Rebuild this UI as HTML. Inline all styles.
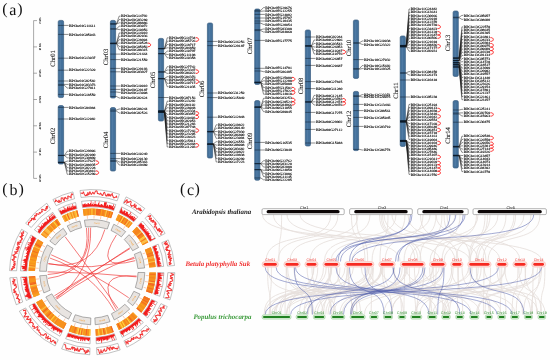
<!DOCTYPE html>
<html lang="en"><head><meta charset="utf-8"><title>Figure</title>
<style>html,body{margin:0;padding:0;background:#fff}body{width:550px;height:360px;overflow:hidden}svg{display:block}</style>
</head><body>
<svg width="550" height="360" viewBox="0 0 550 360" text-rendering="geometricPrecision">
<rect width="550" height="360" fill="#fefefe"/>
<g id="panel-a">
<g stroke="#444" stroke-width="0.45" fill="none">
<path d="M33.6 20.6V178.4"/>
<path d="M33.6 20.6H37"/>
<path d="M33.6 46.9H37"/>
<path d="M33.6 73.2H37"/>
<path d="M33.6 99.5H37"/>
<path d="M33.6 125.8H37"/>
<path d="M33.6 152.1H37"/>
<path d="M33.6 178.4H37"/>
</g>
<g font-family="'Liberation Serif', serif" font-size="2.8" fill="#111" stroke="#111" stroke-width="0.06" text-anchor="middle">
<text transform="translate(41.2 20.6) rotate(-90)">0 Mb</text>
<text transform="translate(41.2 46.9) rotate(-90)">10 Mb</text>
<text transform="translate(41.2 73.2) rotate(-90)">20 Mb</text>
<text transform="translate(41.2 99.5) rotate(-90)">30 Mb</text>
<text transform="translate(41.2 125.8) rotate(-90)">40 Mb</text>
<text transform="translate(41.2 152.1) rotate(-90)">50 Mb</text>
<text transform="translate(41.2 178.4) rotate(-90)">60 Mb</text>
</g>
<rect x="58.2" y="20.4" width="5.4" height="77.2" rx="1.5" ry="1.5" fill="#44719b" stroke="#385b80" stroke-width="0.7"/>
<rect x="59.7" y="22.4" width="1.4" height="73.2" fill="#5680a8" opacity="0.6"/>
<text transform="translate(54.6 58.5) rotate(-90)" font-family="'Liberation Serif', serif" font-size="6.6" fill="#111" stroke="#111" stroke-width="0.08" text-anchor="middle">Chr01</text>
<rect x="58.2" y="105.6" width="5.4" height="58.4" rx="1.5" ry="1.5" fill="#44719b" stroke="#385b80" stroke-width="0.7"/>
<rect x="59.7" y="107.6" width="1.4" height="54.4" fill="#5680a8" opacity="0.6"/>
<text transform="translate(54.6 136) rotate(-90)" font-family="'Liberation Serif', serif" font-size="6.6" fill="#111" stroke="#111" stroke-width="0.08" text-anchor="middle">Chr02</text>
<rect x="110.4" y="20.4" width="5.2" height="77.6" rx="1.5" ry="1.5" fill="#44719b" stroke="#385b80" stroke-width="0.7"/>
<rect x="111.9" y="22.4" width="1.4" height="73.6" fill="#5680a8" opacity="0.6"/>
<text transform="translate(107.8 57) rotate(-90)" font-family="'Liberation Serif', serif" font-size="6.6" fill="#111" stroke="#111" stroke-width="0.08" text-anchor="middle">Chr03</text>
<rect x="110.4" y="107.6" width="5.2" height="63.4" rx="1.5" ry="1.5" fill="#44719b" stroke="#385b80" stroke-width="0.7"/>
<rect x="111.9" y="109.6" width="1.4" height="59.4" fill="#5680a8" opacity="0.6"/>
<text transform="translate(107.8 140) rotate(-90)" font-family="'Liberation Serif', serif" font-size="6.6" fill="#111" stroke="#111" stroke-width="0.08" text-anchor="middle">Chr04</text>
<rect x="158.4" y="38.4" width="5.2" height="82.6" rx="1.5" ry="1.5" fill="#44719b" stroke="#385b80" stroke-width="0.7"/>
<rect x="159.9" y="40.4" width="1.4" height="78.6" fill="#5680a8" opacity="0.6"/>
<text transform="translate(155.2 80) rotate(-90)" font-family="'Liberation Serif', serif" font-size="6.6" fill="#111" stroke="#111" stroke-width="0.08" text-anchor="middle">Chr05</text>
<rect x="207.4" y="23" width="5.2" height="135" rx="1.5" ry="1.5" fill="#44719b" stroke="#385b80" stroke-width="0.7"/>
<rect x="208.9" y="25" width="1.4" height="131" fill="#5680a8" opacity="0.6"/>
<text transform="translate(204.2 89) rotate(-90)" font-family="'Liberation Serif', serif" font-size="6.6" fill="#111" stroke="#111" stroke-width="0.08" text-anchor="middle">Chr06</text>
<rect x="254.7" y="9" width="5.2" height="75.4" rx="1.5" ry="1.5" fill="#44719b" stroke="#385b80" stroke-width="0.7"/>
<rect x="256.2" y="11" width="1.4" height="71.4" fill="#5680a8" opacity="0.6"/>
<text transform="translate(252.2 46) rotate(-90)" font-family="'Liberation Serif', serif" font-size="6.6" fill="#111" stroke="#111" stroke-width="0.08" text-anchor="middle">Chr07</text>
<rect x="305.3" y="30" width="5.2" height="116" rx="1.5" ry="1.5" fill="#44719b" stroke="#385b80" stroke-width="0.7"/>
<rect x="306.8" y="32" width="1.4" height="112" fill="#5680a8" opacity="0.6"/>
<text transform="translate(302.6 86) rotate(-90)" font-family="'Liberation Serif', serif" font-size="6.6" fill="#111" stroke="#111" stroke-width="0.08" text-anchor="middle">Chr08</text>
<rect x="254.7" y="100.6" width="5.2" height="79.6" rx="1.5" ry="1.5" fill="#44719b" stroke="#385b80" stroke-width="0.7"/>
<rect x="256.2" y="102.6" width="1.4" height="75.6" fill="#5680a8" opacity="0.6"/>
<text transform="translate(252.2 141) rotate(-90)" font-family="'Liberation Serif', serif" font-size="6.6" fill="#111" stroke="#111" stroke-width="0.08" text-anchor="middle">Chr09</text>
<rect x="353.4" y="20" width="5.2" height="58.4" rx="1.5" ry="1.5" fill="#44719b" stroke="#385b80" stroke-width="0.7"/>
<rect x="354.9" y="22" width="1.4" height="54.4" fill="#5680a8" opacity="0.6"/>
<text transform="translate(350.8 48) rotate(-90)" font-family="'Liberation Serif', serif" font-size="6.6" fill="#111" stroke="#111" stroke-width="0.08" text-anchor="middle">Chr10</text>
<rect x="400.2" y="36" width="5.2" height="110.4" rx="1.5" ry="1.5" fill="#44719b" stroke="#385b80" stroke-width="0.7"/>
<rect x="401.7" y="38" width="1.4" height="106.4" fill="#5680a8" opacity="0.6"/>
<text transform="translate(397.6 90.6) rotate(-90)" font-family="'Liberation Serif', serif" font-size="6.6" fill="#111" stroke="#111" stroke-width="0.08" text-anchor="middle">Chr11</text>
<rect x="353.4" y="91.4" width="5.2" height="59.2" rx="1.5" ry="1.5" fill="#44719b" stroke="#385b80" stroke-width="0.7"/>
<rect x="354.9" y="93.4" width="1.4" height="55.2" fill="#5680a8" opacity="0.6"/>
<text transform="translate(350.8 119) rotate(-90)" font-family="'Liberation Serif', serif" font-size="6.6" fill="#111" stroke="#111" stroke-width="0.08" text-anchor="middle">Chr12</text>
<rect x="453.1" y="11" width="5.2" height="65.4" rx="1.5" ry="1.5" fill="#44719b" stroke="#385b80" stroke-width="0.7"/>
<rect x="454.6" y="13" width="1.4" height="61.4" fill="#5680a8" opacity="0.6"/>
<text transform="translate(450.2 43) rotate(-90)" font-family="'Liberation Serif', serif" font-size="6.6" fill="#111" stroke="#111" stroke-width="0.08" text-anchor="middle">Chr13</text>
<rect x="453.1" y="100.6" width="5.2" height="67.4" rx="1.5" ry="1.5" fill="#44719b" stroke="#385b80" stroke-width="0.7"/>
<rect x="454.6" y="102.6" width="1.4" height="63.4" fill="#5680a8" opacity="0.6"/>
<text transform="translate(450.2 135.4) rotate(-90)" font-family="'Liberation Serif', serif" font-size="6.6" fill="#111" stroke="#111" stroke-width="0.08" text-anchor="middle">Chr14</text>
<path d="M58.2 25.4H63.6M58.2 34.4H63.6M58.2 58.2H63.6M58.2 70.2H63.6M58.2 81H63.6M58.2 84.4H63.6M58.2 85.4H63.6M58.2 94.4H63.6M58.2 107.4H63.6M58.2 119H63.6M58.2 155.32H63.6M58.2 155.44H63.6M58.2 155.56H63.6M58.2 162.2H63.6M58.2 162.32H63.6M58.2 162.44H63.6M58.2 162.56H63.6M58.2 162.68H63.6M110.4 23.82H115.6M110.4 23.94H115.6M110.4 24.06H115.6M110.4 28.88H115.6M110.4 29H115.6M110.4 43.14H115.6M110.4 43.26H115.6M110.4 43.38H115.6M110.4 43.5H115.6M110.4 43.62H115.6M110.4 43.74H115.6M110.4 54.1H115.6M110.4 59.6H115.6M110.4 68.4H115.6M110.4 71.8H115.6M110.4 86H115.6M110.4 89.4H115.6M110.4 92H115.6M110.4 96.5H115.6M110.4 110H115.6M110.4 111.2H115.6M110.4 153.4H115.6M110.4 158.6H115.6M110.4 160.5H115.6M110.4 161.5H115.6M158.4 48.46H163.6M158.4 48.58H163.6M158.4 48.7H163.6M158.4 48.82H163.6M158.4 53.52H163.6M158.4 53.64H163.6M158.4 53.76H163.6M158.4 71.82H163.6M158.4 71.94H163.6M158.4 72.06H163.6M158.4 78.46H163.6M158.4 78.58H163.6M158.4 78.7H163.6M158.4 78.82H163.6M158.4 97.5H163.6M158.4 110.8H163.6M158.4 110.92H163.6M158.4 111.04H163.6M158.4 111.16H163.6M158.4 111.28H163.6M158.4 111.4H163.6M158.4 111.52H163.6M158.4 111.64H163.6M158.4 111.76H163.6M158.4 111.88H163.6M158.4 112H163.6M158.4 112.12H163.6M158.4 112.24H163.6M158.4 112.36H163.6M158.4 112.48H163.6M207.4 41.4H212.6M207.4 45.6H212.6M207.4 93H212.6M207.4 97.6H212.6M207.4 117.2H212.6M207.4 131.4H212.6M207.4 131.52H212.6M207.4 131.64H212.6M207.4 131.76H212.6M207.4 131.88H212.6M207.4 143.78H212.6M207.4 143.9H212.6M207.4 144.02H212.6M207.4 144.14H212.6M207.4 144.26H212.6M207.4 144.38H212.6M207.4 144.5H212.6M254.7 10.3H259.9M254.7 11.3H259.9M254.7 14.4H259.9M254.7 18H259.9M254.7 21H259.9M254.7 23.2H259.9M254.7 29.6H259.9M254.7 30.6H259.9M254.7 40.4H259.9M254.7 68.3H259.9M254.7 71H259.9M254.7 82.14H259.9M254.7 82.26H259.9M254.7 82.38H259.9M254.7 82.5H259.9M254.7 82.62H259.9M254.7 82.74H259.9M305.3 37H310.5M305.3 45.7H310.5M305.3 45.82H310.5M305.3 45.94H310.5M305.3 46.06H310.5M305.3 46.18H310.5M305.3 58.4H310.5M305.3 65.4H310.5M305.3 81.6H310.5M305.3 88.6H310.5M305.3 101.76H310.5M305.3 101.88H310.5M305.3 102H310.5M305.3 102.12H310.5M305.3 112.4H310.5M305.3 122H310.5M305.3 129.4H310.5M305.3 143H310.5M254.7 106.9H259.9M254.7 107.02H259.9M254.7 107.14H259.9M254.7 107.26H259.9M254.7 107.38H259.9M254.7 142.4H259.9M254.7 150H259.9M254.7 163.52H259.9M254.7 163.64H259.9M254.7 163.76H259.9M254.7 169.52H259.9M254.7 169.64H259.9M254.7 169.76H259.9M254.7 177.94H259.9M353.4 42.7H358.6M353.4 43.3H358.6M353.4 59.6H358.6M353.4 68.6H358.6M353.4 69.2H358.6M400.2 45.36H405.4M400.2 45.48H405.4M400.2 45.6H405.4M400.2 45.72H405.4M400.2 45.84H405.4M400.2 45.96H405.4M400.2 46.08H405.4M400.2 46.2H405.4M400.2 46.32H405.4M400.2 46.44H405.4M400.2 46.56H405.4M400.2 46.68H405.4M400.2 46.8H405.4M400.2 46.92H405.4M400.2 72.7H405.4M400.2 73.3H405.4M400.2 80H405.4M400.2 97H405.4M400.2 120.78H405.4M400.2 120.9H405.4M400.2 121.02H405.4M400.2 121.14H405.4M400.2 121.26H405.4M400.2 121.38H405.4M400.2 121.5H405.4M400.2 121.62H405.4M400.2 121.74H405.4M400.2 121.86H405.4M400.2 121.98H405.4M400.2 122.1H405.4M400.2 140.34H405.4M400.2 140.46H405.4M400.2 140.58H405.4M400.2 140.7H405.4M400.2 140.82H405.4M400.2 140.94H405.4M400.2 141.06H405.4M400.2 141.18H405.4M400.2 141.3H405.4M400.2 141.42H405.4M400.2 141.54H405.4M353.4 95.8H358.6M353.4 96.4H358.6M353.4 104.4H358.6M353.4 110.6H358.6M353.4 117.4H358.6M353.4 126.4H358.6M353.4 149.4H358.6M453.1 17.2H458.3M453.1 17.8H458.3M453.1 57.9H458.3M453.1 58.02H458.3M453.1 58.14H458.3M453.1 58.26H458.3M453.1 58.38H458.3M453.1 60.3H458.3M453.1 60.42H458.3M453.1 60.54H458.3M453.1 60.66H458.3M453.1 60.78H458.3M453.1 62.5H458.3M453.1 62.62H458.3M453.1 62.74H458.3M453.1 62.86H458.3M453.1 62.98H458.3M453.1 64.5H458.3M453.1 64.62H458.3M453.1 64.74H458.3M453.1 64.86H458.3M453.1 64.98H458.3M453.1 66.76H458.3M453.1 66.88H458.3M453.1 67H458.3M453.1 67.12H458.3M453.1 110H458.3M453.1 113H458.3M453.1 114H458.3M453.1 122.2H458.3M453.1 146.34H458.3M453.1 146.46H458.3M453.1 146.58H458.3M453.1 146.7H458.3M453.1 146.82H458.3M453.1 146.94H458.3M453.1 155.24H458.3M453.1 155.36H458.3M453.1 155.48H458.3M453.1 155.6H458.3M453.1 155.72H458.3M453.1 155.84H458.3" stroke="#0c1a28" stroke-width="0.5" fill="none"/>
<path d="M63.6 25.4H68.6M63.6 34.4H68.6M63.6 58.2H68.6M63.6 70.2H68.6M63.6 81H68.6M63.6 84.4H68.6M63.6 85.4h0.9L67.2 88H68.6M63.6 94.4H68.6M63.6 107.4H68.6M63.6 119H68.6M63.6 155.32h0.9L67.2 151.2H68.6M63.6 155.44h0.9L67.2 154.5H68.6M63.6 155.56h0.9L67.2 157.8H68.6M63.6 162.2h0.9L67.2 161.1H68.6M63.6 162.32h0.9L67.2 164.4H68.6M63.6 162.44h0.9L67.2 167.7H68.6M63.6 162.56h0.9L67.2 171H68.6M63.6 162.68h0.9L67.2 174.3H68.6M115.6 23.82h0.9L119.2 16.1H120.6M115.6 23.94h0.9L119.2 19.47H120.6M115.6 24.06h0.9L119.2 22.84H120.6M115.6 28.88h0.9L119.2 26.21H120.6M115.6 29h0.9L119.2 29.58H120.6M115.6 43.14h0.9L119.2 32.95H120.6M115.6 43.26h0.9L119.2 36.32H120.6M115.6 43.38h0.9L119.2 39.69H120.6M115.6 43.5h0.9L119.2 43.06H120.6M115.6 43.62h0.9L119.2 46.43H120.6M115.6 43.74h0.9L119.2 49.8H120.6M115.6 54.1H120.6M115.6 59.6H120.6M115.6 68.4H120.6M115.6 71.8H120.6M115.6 86H120.6M115.6 89.4H120.6M115.6 92h0.9L119.2 92.4H120.6M115.6 96.5h0.9L119.2 98H120.6M115.6 110h0.9L119.2 109H120.6M115.6 111.2h0.9L119.2 113H120.6M115.6 153.4H120.6M115.6 158.6H120.6M115.6 160.5h0.9L119.2 162H120.6M115.6 161.5h0.9L119.2 165H120.6M163.6 48.46h0.9L167.2 37.8H168.6M163.6 48.58h0.9L167.2 41.13H168.6M163.6 48.7h0.9L167.2 44.47H168.6M163.6 48.82h0.9L167.2 47.8H168.6M163.6 53.52h0.9L167.2 51.13H168.6M163.6 53.64h0.9L167.2 54.47H168.6M163.6 53.76h0.9L167.2 57.8H168.6M163.6 71.82h0.9L167.2 66.7H168.6M163.6 71.94h0.9L167.2 70.03H168.6M163.6 72.06h0.9L167.2 73.37H168.6M163.6 78.46h0.9L167.2 76.7H168.6M163.6 78.58h0.9L167.2 80.03H168.6M163.6 78.7h0.9L167.2 83.37H168.6M163.6 78.82h0.9L167.2 86.7H168.6M163.6 97.5H168.6M163.6 110.8h0.9L167.2 101.2H168.6M163.6 110.92h0.9L167.2 104.47H168.6M163.6 111.04h0.9L167.2 107.74H168.6M163.6 111.16h0.9L167.2 111.01H168.6M163.6 111.28h0.9L167.2 114.29H168.6M163.6 111.4h0.9L167.2 117.56H168.6M163.6 111.52h0.9L167.2 120.83H168.6M163.6 111.64h0.9L167.2 124.1H168.6M163.6 111.76h0.9L167.2 127.37H168.6M163.6 111.88h0.9L167.2 130.64H168.6M163.6 112h0.9L167.2 133.91H168.6M163.6 112.12h0.9L167.2 137.19H168.6M163.6 112.24h0.9L167.2 140.46H168.6M163.6 112.36h0.9L167.2 143.73H168.6M163.6 112.48h0.9L167.2 147H168.6M212.6 41.4H217.6M212.6 45.6H217.6M212.6 93H217.6M212.6 97.6H217.6M212.6 117.2H217.6M212.6 131.4h0.9L216.2 124.8H217.6M212.6 131.52h0.9L216.2 128.18H217.6M212.6 131.64h0.9L216.2 131.56H217.6M212.6 131.76h0.9L216.2 134.95H217.6M212.6 131.88h0.9L216.2 138.33H217.6M212.6 143.78h0.9L216.2 141.71H217.6M212.6 143.9h0.9L216.2 145.09H217.6M212.6 144.02h0.9L216.2 148.47H217.6M212.6 144.14h0.9L216.2 151.85H217.6M212.6 144.26h0.9L216.2 155.24H217.6M212.6 144.38h0.9L216.2 158.62H217.6M212.6 144.5h0.9L216.2 162H217.6M259.9 10.3h0.9L263.5 7.6H264.9M259.9 11.3h0.9L263.5 11H264.9M259.9 14.4H264.9M259.9 18H264.9M259.9 21H264.9M259.9 23.2h0.9L263.5 24.4H264.9M259.9 29.6h0.9L263.5 29H264.9M259.9 30.6h0.9L263.5 32H264.9M259.9 40.4H264.9M259.9 68.3H264.9M259.9 71h0.9L263.5 71.7H264.9M259.9 82.14h0.9L263.5 77.5H264.9M259.9 82.26h0.9L263.5 80.84H264.9M259.9 82.38h0.9L263.5 84.18H264.9M259.9 82.5h0.9L263.5 87.52H264.9M259.9 82.62h0.9L263.5 90.86H264.9M259.9 82.74h0.9L263.5 94.2H264.9M310.5 37H315.5M310.5 45.7h0.9L314.1 40H315.5M310.5 45.82h0.9L314.1 43.5H315.5M310.5 45.94h0.9L314.1 47H315.5M310.5 46.06h0.9L314.1 50.5H315.5M310.5 46.18h0.9L314.1 54H315.5M310.5 58.4H315.5M310.5 65.4H315.5M310.5 81.6H315.5M310.5 88.6H315.5M310.5 101.76h0.9L314.1 95.4H315.5M310.5 101.88h0.9L314.1 98.6H315.5M310.5 102h0.9L314.1 101.8H315.5M310.5 102.12h0.9L314.1 105H315.5M310.5 112.4H315.5M310.5 122H315.5M310.5 129.4H315.5M310.5 143H315.5M259.9 106.9h0.9L263.5 98.3H264.9M259.9 107.02h0.9L263.5 101.65H264.9M259.9 107.14h0.9L263.5 105H264.9M259.9 107.26h0.9L263.5 108.35H264.9M259.9 107.38h0.9L263.5 111.7H264.9M259.9 142.4H264.9M259.9 150H264.9M259.9 163.52h0.9L263.5 160.7H264.9M259.9 163.64h0.9L263.5 163.88H264.9M259.9 163.76h0.9L263.5 167.07H264.9M259.9 169.52h0.9L263.5 170.25H264.9M259.9 169.64h0.9L263.5 173.43H264.9M259.9 169.76h0.9L263.5 176.62H264.9M259.9 177.94h0.9L263.5 179.8H264.9M358.6 42.7h0.9L362.2 41H363.6M358.6 43.3h0.9L362.2 44.4H363.6M358.6 59.6H363.6M358.6 68.6h0.9L362.2 65.6H363.6M358.6 69.2h0.9L362.2 68.6H363.6M405.4 45.36h0.9L409 9H410.4M405.4 45.48h0.9L409 12.25H410.4M405.4 45.6h0.9L409 15.49H410.4M405.4 45.72h0.9L409 18.74H410.4M405.4 45.84h0.9L409 21.98H410.4M405.4 45.96h0.9L409 25.23H410.4M405.4 46.08h0.9L409 28.48H410.4M405.4 46.2h0.9L409 31.72H410.4M405.4 46.32h0.9L409 34.97H410.4M405.4 46.44h0.9L409 38.22H410.4M405.4 46.56h0.9L409 41.46H410.4M405.4 46.68h0.9L409 44.71H410.4M405.4 46.8h0.9L409 47.95H410.4M405.4 46.92h0.9L409 51.2H410.4M405.4 72.7h0.9L409 71.6H410.4M405.4 73.3h0.9L409 75H410.4M405.4 80H410.4M405.4 97H410.4M405.4 120.78h0.9L409 104.4H410.4M405.4 120.9h0.9L409 107.58H410.4M405.4 121.02h0.9L409 110.76H410.4M405.4 121.14h0.9L409 113.95H410.4M405.4 121.26h0.9L409 117.13H410.4M405.4 121.38h0.9L409 120.31H410.4M405.4 121.5h0.9L409 123.49H410.4M405.4 121.62h0.9L409 126.67H410.4M405.4 121.74h0.9L409 129.85H410.4M405.4 121.86h0.9L409 133.04H410.4M405.4 121.98h0.9L409 136.22H410.4M405.4 122.1h0.9L409 139.4H410.4M405.4 140.34h0.9L409 142.58H410.4M405.4 140.46h0.9L409 145.76H410.4M405.4 140.58h0.9L409 148.95H410.4M405.4 140.7h0.9L409 152.13H410.4M405.4 140.82h0.9L409 155.31H410.4M405.4 140.94h0.9L409 158.49H410.4M405.4 141.06h0.9L409 161.67H410.4M405.4 141.18h0.9L409 164.85H410.4M405.4 141.3h0.9L409 168.04H410.4M405.4 141.42h0.9L409 171.22H410.4M405.4 141.54h0.9L409 174.4H410.4M358.6 95.8h0.9L362.2 94.6H363.6M358.6 96.4h0.9L362.2 97H363.6M358.6 104.4H363.6M358.6 110.6H363.6M358.6 117.4H363.6M358.6 126.4H363.6M358.6 149.4h0.9L362.2 150H363.6M458.3 17.2h0.9L461.9 15.4H463.3M458.3 17.8h0.9L461.9 19.4H463.3M458.3 57.9h0.9L461.9 26.9H463.3M458.3 58.02h0.9L461.9 30.07H463.3M458.3 58.14h0.9L461.9 33.23H463.3M458.3 58.26h0.9L461.9 36.4H463.3M458.3 58.38h0.9L461.9 39.56H463.3M458.3 60.3h0.9L461.9 42.73H463.3M458.3 60.42h0.9L461.9 45.89H463.3M458.3 60.54h0.9L461.9 49.06H463.3M458.3 60.66h0.9L461.9 52.22H463.3M458.3 60.78h0.9L461.9 55.39H463.3M458.3 62.5h0.9L461.9 58.55H463.3M458.3 62.62h0.9L461.9 61.72H463.3M458.3 62.74h0.9L461.9 64.88H463.3M458.3 62.86h0.9L461.9 68.05H463.3M458.3 62.98h0.9L461.9 71.21H463.3M458.3 64.5h0.9L461.9 74.38H463.3M458.3 64.62h0.9L461.9 77.54H463.3M458.3 64.74h0.9L461.9 80.71H463.3M458.3 64.86h0.9L461.9 83.87H463.3M458.3 64.98h0.9L461.9 87.04H463.3M458.3 66.76h0.9L461.9 90.2H463.3M458.3 66.88h0.9L461.9 93.37H463.3M458.3 67h0.9L461.9 96.53H463.3M458.3 67.12h0.9L461.9 99.7H463.3M458.3 110h0.9L461.9 109.3H463.3M458.3 113h0.9L461.9 112.9H463.3M458.3 114h0.9L461.9 116H463.3M458.3 122.2H463.3M458.3 146.34h0.9L461.9 136.2H463.3M458.3 146.46h0.9L461.9 139.42H463.3M458.3 146.58h0.9L461.9 142.64H463.3M458.3 146.7h0.9L461.9 145.85H463.3M458.3 146.82h0.9L461.9 149.07H463.3M458.3 146.94h0.9L461.9 152.29H463.3M458.3 155.24h0.9L461.9 155.51H463.3M458.3 155.36h0.9L461.9 158.73H463.3M458.3 155.48h0.9L461.9 161.95H463.3M458.3 155.6h0.9L461.9 165.16H463.3M458.3 155.72h0.9L461.9 168.38H463.3M458.3 155.84h0.9L461.9 171.6H463.3" stroke="#1a1a1a" stroke-width="0.5" fill="none"/>
<g font-family="'Liberation Serif', serif" font-size="3.3" fill="#0a0a0a" stroke="#0a0a0a" stroke-width="0.12" text-rendering="geometricPrecision">
<text x="69" y="26.5" textLength="26.5" lengthAdjust="spacingAndGlyphs">BPChr01G11611</text>
<text x="69" y="35.5" textLength="26.5" lengthAdjust="spacingAndGlyphs">BPChr01G05943</text>
<text x="69" y="59.3" textLength="26.5" lengthAdjust="spacingAndGlyphs">BPChr01G13937</text>
<text x="69" y="71.3" textLength="26.5" lengthAdjust="spacingAndGlyphs">BPChr01G22329</text>
<text x="69" y="82.1" textLength="26.5" lengthAdjust="spacingAndGlyphs">BPChr01G02582</text>
<text x="69" y="85.5" textLength="26.5" lengthAdjust="spacingAndGlyphs">BPChr01G03373</text>
<text x="69" y="89.1" textLength="26.5" lengthAdjust="spacingAndGlyphs">BPChr01G27911</text>
<text x="69" y="95.5" textLength="26.5" lengthAdjust="spacingAndGlyphs">BPChr01G18559</text>
<text x="69" y="108.5" textLength="26.5" lengthAdjust="spacingAndGlyphs">BPChr02G04084</text>
<text x="69" y="120.1" textLength="26.5" lengthAdjust="spacingAndGlyphs">BPChr02G12982</text>
<text x="69" y="152.3" textLength="26.5" lengthAdjust="spacingAndGlyphs">BPChr02G20096</text>
<text x="69" y="155.6" textLength="26.5" lengthAdjust="spacingAndGlyphs">BPChr02G02900</text>
<text x="69" y="158.9" textLength="26.5" lengthAdjust="spacingAndGlyphs">BPChr02G30809</text>
<text x="69" y="162.2" textLength="26.5" lengthAdjust="spacingAndGlyphs">BPChr02G17627</text>
<text x="69" y="165.5" textLength="26.5" lengthAdjust="spacingAndGlyphs">BPChr02G08035</text>
<text x="69" y="168.8" textLength="26.5" lengthAdjust="spacingAndGlyphs">BPChr02G02228</text>
<text x="69" y="172.1" textLength="26.5" lengthAdjust="spacingAndGlyphs">BPChr02G03816</text>
<text x="69" y="175.4" textLength="26.5" lengthAdjust="spacingAndGlyphs">BPChr02G15209</text>
<text x="121" y="17.2" textLength="26.5" lengthAdjust="spacingAndGlyphs">BPChr03G14702</text>
<text x="121" y="20.57" textLength="26.5" lengthAdjust="spacingAndGlyphs">BPChr03G03289</text>
<text x="121" y="23.94" textLength="26.5" lengthAdjust="spacingAndGlyphs">BPChr03G08886</text>
<text x="121" y="27.31" textLength="26.5" lengthAdjust="spacingAndGlyphs">BPChr03G03972</text>
<text x="121" y="30.68" textLength="26.5" lengthAdjust="spacingAndGlyphs">BPChr03G19056</text>
<text x="121" y="34.05" textLength="26.5" lengthAdjust="spacingAndGlyphs">BPChr03G14910</text>
<text x="121" y="37.42" textLength="26.5" lengthAdjust="spacingAndGlyphs">BPChr03G02936</text>
<text x="121" y="40.79" textLength="26.5" lengthAdjust="spacingAndGlyphs">BPChr03G28094</text>
<text x="121" y="44.16" textLength="26.5" lengthAdjust="spacingAndGlyphs">BPChr03G19528</text>
<text x="121" y="47.53" textLength="26.5" lengthAdjust="spacingAndGlyphs">BPChr03G05056</text>
<text x="121" y="50.9" textLength="26.5" lengthAdjust="spacingAndGlyphs">BPChr03G08315</text>
<text x="121" y="55.2" textLength="26.5" lengthAdjust="spacingAndGlyphs">BPChr03G21664</text>
<text x="121" y="60.7" textLength="26.5" lengthAdjust="spacingAndGlyphs">BPChr03G21559</text>
<text x="121" y="69.5" textLength="26.5" lengthAdjust="spacingAndGlyphs">BPChr03G20103</text>
<text x="121" y="72.9" textLength="26.5" lengthAdjust="spacingAndGlyphs">BPChr03G03027</text>
<text x="121" y="87.1" textLength="26.5" lengthAdjust="spacingAndGlyphs">BPChr03G19910</text>
<text x="121" y="90.5" textLength="26.5" lengthAdjust="spacingAndGlyphs">BPChr03G20187</text>
<text x="121" y="93.5" textLength="26.5" lengthAdjust="spacingAndGlyphs">BPChr03G13998</text>
<text x="121" y="99.1" textLength="26.5" lengthAdjust="spacingAndGlyphs">BPChr03G02624</text>
<text x="121" y="110.1" textLength="26.5" lengthAdjust="spacingAndGlyphs">BPChr04G08244</text>
<text x="121" y="114.1" textLength="26.5" lengthAdjust="spacingAndGlyphs">BPChr04G02526</text>
<text x="121" y="154.5" textLength="26.5" lengthAdjust="spacingAndGlyphs">BPChr04G19240</text>
<text x="121" y="159.7" textLength="26.5" lengthAdjust="spacingAndGlyphs">BPChr04G29130</text>
<text x="121" y="163.1" textLength="26.5" lengthAdjust="spacingAndGlyphs">BPChr04G05363</text>
<text x="121" y="166.1" textLength="26.5" lengthAdjust="spacingAndGlyphs">BPChr04G10489</text>
<text x="169" y="38.9" textLength="26.5" lengthAdjust="spacingAndGlyphs">BPChr05G14734</text>
<text x="169" y="42.23" textLength="26.5" lengthAdjust="spacingAndGlyphs">BPChr05G05726</text>
<text x="169" y="45.57" textLength="26.5" lengthAdjust="spacingAndGlyphs">BPChr05G18717</text>
<text x="169" y="48.9" textLength="26.5" lengthAdjust="spacingAndGlyphs">BPChr05G04859</text>
<text x="169" y="52.23" textLength="26.5" lengthAdjust="spacingAndGlyphs">BPChr05G19707</text>
<text x="169" y="55.57" textLength="26.5" lengthAdjust="spacingAndGlyphs">BPChr05G11108</text>
<text x="169" y="58.9" textLength="26.5" lengthAdjust="spacingAndGlyphs">BPChr05G19358</text>
<text x="169" y="67.8" textLength="26.5" lengthAdjust="spacingAndGlyphs">BPChr05G27742</text>
<text x="169" y="71.13" textLength="26.5" lengthAdjust="spacingAndGlyphs">BPChr05G23347</text>
<text x="169" y="74.47" textLength="26.5" lengthAdjust="spacingAndGlyphs">BPChr05G06922</text>
<text x="169" y="77.8" textLength="26.5" lengthAdjust="spacingAndGlyphs">BPChr05G04376</text>
<text x="169" y="81.13" textLength="26.5" lengthAdjust="spacingAndGlyphs">BPChr05G20057</text>
<text x="169" y="84.47" textLength="26.5" lengthAdjust="spacingAndGlyphs">BPChr05G19717</text>
<text x="169" y="87.8" textLength="26.5" lengthAdjust="spacingAndGlyphs">BPChr05G21935</text>
<text x="169" y="98.6" textLength="26.5" lengthAdjust="spacingAndGlyphs">BPChr05G07156</text>
<text x="169" y="102.3" textLength="26.5" lengthAdjust="spacingAndGlyphs">BPChr05G13202</text>
<text x="169" y="105.57" textLength="26.5" lengthAdjust="spacingAndGlyphs">BPChr05G04192</text>
<text x="169" y="108.84" textLength="26.5" lengthAdjust="spacingAndGlyphs">BPChr05G18948</text>
<text x="169" y="112.11" textLength="26.5" lengthAdjust="spacingAndGlyphs">BPChr05G24334</text>
<text x="169" y="115.39" textLength="26.5" lengthAdjust="spacingAndGlyphs">BPChr05G03057</text>
<text x="169" y="118.66" textLength="26.5" lengthAdjust="spacingAndGlyphs">BPChr05G19493</text>
<text x="169" y="121.93" textLength="26.5" lengthAdjust="spacingAndGlyphs">BPChr05G02953</text>
<text x="169" y="125.2" textLength="26.5" lengthAdjust="spacingAndGlyphs">BPChr05G21283</text>
<text x="169" y="128.47" textLength="26.5" lengthAdjust="spacingAndGlyphs">BPChr05G07748</text>
<text x="169" y="131.74" textLength="26.5" lengthAdjust="spacingAndGlyphs">BPChr05G17266</text>
<text x="169" y="135.01" textLength="26.5" lengthAdjust="spacingAndGlyphs">BPChr05G23295</text>
<text x="169" y="138.29" textLength="26.5" lengthAdjust="spacingAndGlyphs">BPChr05G18423</text>
<text x="169" y="141.56" textLength="26.5" lengthAdjust="spacingAndGlyphs">BPChr05G15011</text>
<text x="169" y="144.83" textLength="26.5" lengthAdjust="spacingAndGlyphs">BPChr05G26468</text>
<text x="169" y="148.1" textLength="26.5" lengthAdjust="spacingAndGlyphs">BPChr05G11293</text>
<text x="218" y="42.5" textLength="26.5" lengthAdjust="spacingAndGlyphs">BPChr06G16256</text>
<text x="218" y="46.7" textLength="26.5" lengthAdjust="spacingAndGlyphs">BPChr06G20187</text>
<text x="218" y="94.1" textLength="26.5" lengthAdjust="spacingAndGlyphs">BPChr06G31259</text>
<text x="218" y="98.7" textLength="26.5" lengthAdjust="spacingAndGlyphs">BPChr06G15849</text>
<text x="218" y="118.3" textLength="26.5" lengthAdjust="spacingAndGlyphs">BPChr06G12848</text>
<text x="218" y="125.9" textLength="26.5" lengthAdjust="spacingAndGlyphs">BPChr06G10822</text>
<text x="218" y="129.28" textLength="26.5" lengthAdjust="spacingAndGlyphs">BPChr06G09140</text>
<text x="218" y="132.66" textLength="26.5" lengthAdjust="spacingAndGlyphs">BPChr06G27030</text>
<text x="218" y="136.05" textLength="26.5" lengthAdjust="spacingAndGlyphs">BPChr06G06890</text>
<text x="218" y="139.43" textLength="26.5" lengthAdjust="spacingAndGlyphs">BPChr06G23904</text>
<text x="218" y="142.81" textLength="26.5" lengthAdjust="spacingAndGlyphs">BPChr06G26553</text>
<text x="218" y="146.19" textLength="26.5" lengthAdjust="spacingAndGlyphs">BPChr06G08998</text>
<text x="218" y="149.57" textLength="26.5" lengthAdjust="spacingAndGlyphs">BPChr06G03682</text>
<text x="218" y="152.95" textLength="26.5" lengthAdjust="spacingAndGlyphs">BPChr06G19822</text>
<text x="218" y="156.34" textLength="26.5" lengthAdjust="spacingAndGlyphs">BPChr06G10838</text>
<text x="218" y="159.72" textLength="26.5" lengthAdjust="spacingAndGlyphs">BPChr06G18209</text>
<text x="218" y="163.1" textLength="26.5" lengthAdjust="spacingAndGlyphs">BPChr06G17223</text>
<text x="265.3" y="8.7" textLength="26.5" lengthAdjust="spacingAndGlyphs">BPChr07G29676</text>
<text x="265.3" y="12.1" textLength="26.5" lengthAdjust="spacingAndGlyphs">BPChr07G12255</text>
<text x="265.3" y="15.5" textLength="26.5" lengthAdjust="spacingAndGlyphs">BPChr07G24902</text>
<text x="265.3" y="19.1" textLength="26.5" lengthAdjust="spacingAndGlyphs">BPChr07G15707</text>
<text x="265.3" y="22.1" textLength="26.5" lengthAdjust="spacingAndGlyphs">BPChr07G10435</text>
<text x="265.3" y="25.5" textLength="26.5" lengthAdjust="spacingAndGlyphs">BPChr07G20954</text>
<text x="265.3" y="30.1" textLength="26.5" lengthAdjust="spacingAndGlyphs">BPChr07G03398</text>
<text x="265.3" y="33.1" textLength="26.5" lengthAdjust="spacingAndGlyphs">BPChr07G04868</text>
<text x="265.3" y="41.5" textLength="26.5" lengthAdjust="spacingAndGlyphs">BPChr07G17775</text>
<text x="265.3" y="69.4" textLength="26.5" lengthAdjust="spacingAndGlyphs">BPChr07G14701</text>
<text x="265.3" y="72.8" textLength="26.5" lengthAdjust="spacingAndGlyphs">BPChr07G06405</text>
<text x="265.3" y="78.6" textLength="26.5" lengthAdjust="spacingAndGlyphs">BPChr07G25809</text>
<text x="265.3" y="81.94" textLength="26.5" lengthAdjust="spacingAndGlyphs">BPChr07G12208</text>
<text x="265.3" y="85.28" textLength="26.5" lengthAdjust="spacingAndGlyphs">BPChr07G05980</text>
<text x="265.3" y="88.62" textLength="26.5" lengthAdjust="spacingAndGlyphs">BPChr07G31581</text>
<text x="265.3" y="91.96" textLength="26.5" lengthAdjust="spacingAndGlyphs">BPChr07G17022</text>
<text x="265.3" y="95.3" textLength="26.5" lengthAdjust="spacingAndGlyphs">BPChr07G14818</text>
<text x="315.9" y="38.1" textLength="26.5" lengthAdjust="spacingAndGlyphs">BPChr08G02284</text>
<text x="315.9" y="41.1" textLength="26.5" lengthAdjust="spacingAndGlyphs">BPChr08G22896</text>
<text x="315.9" y="44.6" textLength="26.5" lengthAdjust="spacingAndGlyphs">BPChr08G03543</text>
<text x="315.9" y="48.1" textLength="26.5" lengthAdjust="spacingAndGlyphs">BPChr08G26053</text>
<text x="315.9" y="51.6" textLength="26.5" lengthAdjust="spacingAndGlyphs">BPChr08G19287</text>
<text x="315.9" y="55.1" textLength="26.5" lengthAdjust="spacingAndGlyphs">BPChr08G19776</text>
<text x="315.9" y="59.5" textLength="26.5" lengthAdjust="spacingAndGlyphs">BPChr08G26857</text>
<text x="315.9" y="66.5" textLength="26.5" lengthAdjust="spacingAndGlyphs">BPChr08G29687</text>
<text x="315.9" y="82.7" textLength="26.5" lengthAdjust="spacingAndGlyphs">BPChr08G27815</text>
<text x="315.9" y="89.7" textLength="26.5" lengthAdjust="spacingAndGlyphs">BPChr08G11280</text>
<text x="315.9" y="96.5" textLength="26.5" lengthAdjust="spacingAndGlyphs">BPChr08G12145</text>
<text x="315.9" y="99.7" textLength="26.5" lengthAdjust="spacingAndGlyphs">BPChr08G23783</text>
<text x="315.9" y="102.9" textLength="26.5" lengthAdjust="spacingAndGlyphs">BPChr08G12474</text>
<text x="315.9" y="106.1" textLength="26.5" lengthAdjust="spacingAndGlyphs">BPChr08G20476</text>
<text x="315.9" y="113.5" textLength="26.5" lengthAdjust="spacingAndGlyphs">BPChr08G17275</text>
<text x="315.9" y="123.1" textLength="26.5" lengthAdjust="spacingAndGlyphs">BPChr08G20002</text>
<text x="315.9" y="130.5" textLength="26.5" lengthAdjust="spacingAndGlyphs">BPChr08G27112</text>
<text x="315.9" y="144.1" textLength="26.5" lengthAdjust="spacingAndGlyphs">BPChr08G15948</text>
<text x="265.3" y="99.4" textLength="26.5" lengthAdjust="spacingAndGlyphs">BPChr09G03253</text>
<text x="265.3" y="102.75" textLength="26.5" lengthAdjust="spacingAndGlyphs">BPChr09G28524</text>
<text x="265.3" y="106.1" textLength="26.5" lengthAdjust="spacingAndGlyphs">BPChr09G04066</text>
<text x="265.3" y="109.45" textLength="26.5" lengthAdjust="spacingAndGlyphs">BPChr09G31955</text>
<text x="265.3" y="112.8" textLength="26.5" lengthAdjust="spacingAndGlyphs">BPChr09G09845</text>
<text x="265.3" y="143.5" textLength="26.5" lengthAdjust="spacingAndGlyphs">BPChr09G16535</text>
<text x="265.3" y="151.1" textLength="26.5" lengthAdjust="spacingAndGlyphs">BPChr09G23840</text>
<text x="265.3" y="161.8" textLength="26.5" lengthAdjust="spacingAndGlyphs">BPChr09G22762</text>
<text x="265.3" y="164.98" textLength="26.5" lengthAdjust="spacingAndGlyphs">BPChr09G03129</text>
<text x="265.3" y="168.17" textLength="26.5" lengthAdjust="spacingAndGlyphs">BPChr09G02988</text>
<text x="265.3" y="171.35" textLength="26.5" lengthAdjust="spacingAndGlyphs">BPChr09G24958</text>
<text x="265.3" y="174.53" textLength="26.5" lengthAdjust="spacingAndGlyphs">BPChr09G23986</text>
<text x="265.3" y="177.72" textLength="26.5" lengthAdjust="spacingAndGlyphs">BPChr09G11145</text>
<text x="265.3" y="180.9" textLength="26.5" lengthAdjust="spacingAndGlyphs">BPChr09G22205</text>
<text x="364" y="42.1" textLength="26.5" lengthAdjust="spacingAndGlyphs">BPChr10G19938</text>
<text x="364" y="45.5" textLength="26.5" lengthAdjust="spacingAndGlyphs">BPChr10G23322</text>
<text x="364" y="60.7" textLength="26.5" lengthAdjust="spacingAndGlyphs">BPChr10G27932</text>
<text x="364" y="66.7" textLength="26.5" lengthAdjust="spacingAndGlyphs">BPChr10G15602</text>
<text x="364" y="69.7" textLength="26.5" lengthAdjust="spacingAndGlyphs">BPChr10G10325</text>
<text x="410.8" y="10.1" textLength="26.5" lengthAdjust="spacingAndGlyphs">BPChr11G24482</text>
<text x="410.8" y="13.35" textLength="26.5" lengthAdjust="spacingAndGlyphs">BPChr11G13641</text>
<text x="410.8" y="16.59" textLength="26.5" lengthAdjust="spacingAndGlyphs">BPChr11G30066</text>
<text x="410.8" y="19.84" textLength="26.5" lengthAdjust="spacingAndGlyphs">BPChr11G22910</text>
<text x="410.8" y="23.08" textLength="26.5" lengthAdjust="spacingAndGlyphs">BPChr11G12370</text>
<text x="410.8" y="26.33" textLength="26.5" lengthAdjust="spacingAndGlyphs">BPChr11G01739</text>
<text x="410.8" y="29.58" textLength="26.5" lengthAdjust="spacingAndGlyphs">BPChr11G31823</text>
<text x="410.8" y="32.82" textLength="26.5" lengthAdjust="spacingAndGlyphs">BPChr11G16128</text>
<text x="410.8" y="36.07" textLength="26.5" lengthAdjust="spacingAndGlyphs">BPChr11G12647</text>
<text x="410.8" y="39.32" textLength="26.5" lengthAdjust="spacingAndGlyphs">BPChr11G06506</text>
<text x="410.8" y="42.56" textLength="26.5" lengthAdjust="spacingAndGlyphs">BPChr11G21018</text>
<text x="410.8" y="45.81" textLength="26.5" lengthAdjust="spacingAndGlyphs">BPChr11G04836</text>
<text x="410.8" y="49.05" textLength="26.5" lengthAdjust="spacingAndGlyphs">BPChr11G17177</text>
<text x="410.8" y="52.3" textLength="26.5" lengthAdjust="spacingAndGlyphs">BPChr11G02931</text>
<text x="410.8" y="72.7" textLength="26.5" lengthAdjust="spacingAndGlyphs">BPChr11G08150</text>
<text x="410.8" y="76.1" textLength="26.5" lengthAdjust="spacingAndGlyphs">BPChr11G26173</text>
<text x="410.8" y="81.1" textLength="26.5" lengthAdjust="spacingAndGlyphs">BPChr11G10418</text>
<text x="410.8" y="98.1" textLength="26.5" lengthAdjust="spacingAndGlyphs">BPChr11G05238</text>
<text x="410.8" y="105.5" textLength="26.5" lengthAdjust="spacingAndGlyphs">BPChr11G25194</text>
<text x="410.8" y="108.68" textLength="26.5" lengthAdjust="spacingAndGlyphs">BPChr11G09113</text>
<text x="410.8" y="111.86" textLength="26.5" lengthAdjust="spacingAndGlyphs">BPChr11G14038</text>
<text x="410.8" y="115.05" textLength="26.5" lengthAdjust="spacingAndGlyphs">BPChr11G13810</text>
<text x="410.8" y="118.23" textLength="26.5" lengthAdjust="spacingAndGlyphs">BPChr11G31042</text>
<text x="410.8" y="121.41" textLength="26.5" lengthAdjust="spacingAndGlyphs">BPChr11G29554</text>
<text x="410.8" y="124.59" textLength="26.5" lengthAdjust="spacingAndGlyphs">BPChr11G17269</text>
<text x="410.8" y="127.77" textLength="26.5" lengthAdjust="spacingAndGlyphs">BPChr11G03640</text>
<text x="410.8" y="130.95" textLength="26.5" lengthAdjust="spacingAndGlyphs">BPChr11G06451</text>
<text x="410.8" y="134.14" textLength="26.5" lengthAdjust="spacingAndGlyphs">BPChr11G15718</text>
<text x="410.8" y="137.32" textLength="26.5" lengthAdjust="spacingAndGlyphs">BPChr11G14161</text>
<text x="410.8" y="140.5" textLength="26.5" lengthAdjust="spacingAndGlyphs">BPChr11G19004</text>
<text x="410.8" y="143.68" textLength="26.5" lengthAdjust="spacingAndGlyphs">BPChr11G10104</text>
<text x="410.8" y="146.86" textLength="26.5" lengthAdjust="spacingAndGlyphs">BPChr11G29946</text>
<text x="410.8" y="150.05" textLength="26.5" lengthAdjust="spacingAndGlyphs">BPChr11G05486</text>
<text x="410.8" y="153.23" textLength="26.5" lengthAdjust="spacingAndGlyphs">BPChr11G27846</text>
<text x="410.8" y="156.41" textLength="26.5" lengthAdjust="spacingAndGlyphs">BPChr11G15107</text>
<text x="410.8" y="159.59" textLength="26.5" lengthAdjust="spacingAndGlyphs">BPChr11G29311</text>
<text x="410.8" y="162.77" textLength="26.5" lengthAdjust="spacingAndGlyphs">BPChr11G19029</text>
<text x="410.8" y="165.95" textLength="26.5" lengthAdjust="spacingAndGlyphs">BPChr11G10123</text>
<text x="410.8" y="169.14" textLength="26.5" lengthAdjust="spacingAndGlyphs">BPChr11G24147</text>
<text x="410.8" y="172.32" textLength="26.5" lengthAdjust="spacingAndGlyphs">BPChr11G14608</text>
<text x="410.8" y="175.5" textLength="26.5" lengthAdjust="spacingAndGlyphs">BPChr11G12756</text>
<text x="364" y="95.7" textLength="26.5" lengthAdjust="spacingAndGlyphs">BPChr12G23371</text>
<text x="364" y="98.1" textLength="26.5" lengthAdjust="spacingAndGlyphs">BPChr12G29973</text>
<text x="364" y="105.5" textLength="26.5" lengthAdjust="spacingAndGlyphs">BPChr12G13466</text>
<text x="364" y="111.7" textLength="26.5" lengthAdjust="spacingAndGlyphs">BPChr12G08561</text>
<text x="364" y="118.5" textLength="26.5" lengthAdjust="spacingAndGlyphs">BPChr12G05945</text>
<text x="364" y="127.5" textLength="26.5" lengthAdjust="spacingAndGlyphs">BPChr12G03719</text>
<text x="364" y="151.1" textLength="26.5" lengthAdjust="spacingAndGlyphs">BPChr12G06774</text>
<text x="463.7" y="16.5" textLength="26.5" lengthAdjust="spacingAndGlyphs">BPChr13G05957</text>
<text x="463.7" y="20.5" textLength="26.5" lengthAdjust="spacingAndGlyphs">BPChr13G08600</text>
<text x="463.7" y="28" textLength="26.5" lengthAdjust="spacingAndGlyphs">BPChr13G22578</text>
<text x="463.7" y="31.17" textLength="26.5" lengthAdjust="spacingAndGlyphs">BPChr13G08645</text>
<text x="463.7" y="34.33" textLength="26.5" lengthAdjust="spacingAndGlyphs">BPChr13G01395</text>
<text x="463.7" y="37.5" textLength="26.5" lengthAdjust="spacingAndGlyphs">BPChr13G16891</text>
<text x="463.7" y="40.66" textLength="26.5" lengthAdjust="spacingAndGlyphs">BPChr13G28233</text>
<text x="463.7" y="43.83" textLength="26.5" lengthAdjust="spacingAndGlyphs">BPChr13G20304</text>
<text x="463.7" y="46.99" textLength="26.5" lengthAdjust="spacingAndGlyphs">BPChr13G06975</text>
<text x="463.7" y="50.16" textLength="26.5" lengthAdjust="spacingAndGlyphs">BPChr13G09609</text>
<text x="463.7" y="53.32" textLength="26.5" lengthAdjust="spacingAndGlyphs">BPChr13G10238</text>
<text x="463.7" y="56.49" textLength="26.5" lengthAdjust="spacingAndGlyphs">BPChr13G01134</text>
<text x="463.7" y="59.65" textLength="26.5" lengthAdjust="spacingAndGlyphs">BPChr13G05773</text>
<text x="463.7" y="62.82" textLength="26.5" lengthAdjust="spacingAndGlyphs">BPChr13G14728</text>
<text x="463.7" y="65.98" textLength="26.5" lengthAdjust="spacingAndGlyphs">BPChr13G18517</text>
<text x="463.7" y="69.15" textLength="26.5" lengthAdjust="spacingAndGlyphs">BPChr13G13099</text>
<text x="463.7" y="72.31" textLength="26.5" lengthAdjust="spacingAndGlyphs">BPChr13G20982</text>
<text x="463.7" y="75.48" textLength="26.5" lengthAdjust="spacingAndGlyphs">BPChr13G19557</text>
<text x="463.7" y="78.64" textLength="26.5" lengthAdjust="spacingAndGlyphs">BPChr13G11440</text>
<text x="463.7" y="81.81" textLength="26.5" lengthAdjust="spacingAndGlyphs">BPChr13G05112</text>
<text x="463.7" y="84.97" textLength="26.5" lengthAdjust="spacingAndGlyphs">BPChr13G23626</text>
<text x="463.7" y="88.14" textLength="26.5" lengthAdjust="spacingAndGlyphs">BPChr13G29154</text>
<text x="463.7" y="91.3" textLength="26.5" lengthAdjust="spacingAndGlyphs">BPChr13G17891</text>
<text x="463.7" y="94.47" textLength="26.5" lengthAdjust="spacingAndGlyphs">BPChr13G21237</text>
<text x="463.7" y="97.63" textLength="26.5" lengthAdjust="spacingAndGlyphs">BPChr13G22461</text>
<text x="463.7" y="100.8" textLength="26.5" lengthAdjust="spacingAndGlyphs">BPChr13G23157</text>
<text x="463.7" y="110.4" textLength="26.5" lengthAdjust="spacingAndGlyphs">BPChr14G25241</text>
<text x="463.7" y="114" textLength="26.5" lengthAdjust="spacingAndGlyphs">BPChr14G02769</text>
<text x="463.7" y="117.1" textLength="26.5" lengthAdjust="spacingAndGlyphs">BPChr14G15963</text>
<text x="463.7" y="123.3" textLength="26.5" lengthAdjust="spacingAndGlyphs">BPChr14G30475</text>
<text x="463.7" y="137.3" textLength="26.5" lengthAdjust="spacingAndGlyphs">BPChr14G29540</text>
<text x="463.7" y="140.52" textLength="26.5" lengthAdjust="spacingAndGlyphs">BPChr14G26558</text>
<text x="463.7" y="143.74" textLength="26.5" lengthAdjust="spacingAndGlyphs">BPChr14G29656</text>
<text x="463.7" y="146.95" textLength="26.5" lengthAdjust="spacingAndGlyphs">BPChr14G23301</text>
<text x="463.7" y="150.17" textLength="26.5" lengthAdjust="spacingAndGlyphs">BPChr14G27144</text>
<text x="463.7" y="153.39" textLength="26.5" lengthAdjust="spacingAndGlyphs">BPChr14G19326</text>
<text x="463.7" y="156.61" textLength="26.5" lengthAdjust="spacingAndGlyphs">BPChr14G13857</text>
<text x="463.7" y="159.83" textLength="26.5" lengthAdjust="spacingAndGlyphs">BPChr14G14043</text>
<text x="463.7" y="163.05" textLength="26.5" lengthAdjust="spacingAndGlyphs">BPChr14G14073</text>
<text x="463.7" y="166.26" textLength="26.5" lengthAdjust="spacingAndGlyphs">BPChr14G13914</text>
<text x="463.7" y="169.48" textLength="26.5" lengthAdjust="spacingAndGlyphs">BPChr14G04392</text>
<text x="463.7" y="172.7" textLength="26.5" lengthAdjust="spacingAndGlyphs">BPChr14G16778</text>
</g>
<path d="M95.7 160.9C99.6 160.5 99.6 164.8 95.7 164.4M95.7 170.9C99.6 170.5 99.6 174.8 95.7 174.4M147.7 43.1C151.6 42.7 151.6 47.1 147.7 46.7M195.7 37.7C199.6 37.3 199.6 41.7 195.7 41.3M195.7 69.9C199.6 69.5 199.6 73.8 195.7 73.4M195.7 79.9C199.6 79.5 199.6 83.8 195.7 83.4M195.7 111.7C199.6 111.3 199.6 115.5 195.7 115.1M195.7 115.2C199.6 114.8 199.6 119 195.7 118.6M195.7 128.8C199.6 128.4 199.6 132.6 195.7 132.2M195.7 143.6C199.6 143.2 199.6 147.5 195.7 147.1M292 77.4C295.9 77 295.9 81.3 292 80.9M292 87.4C295.9 87 295.9 91.3 292 90.9M292 90.7C295.9 90.3 295.9 94.7 292 94.3M342.6 50.2C346.5 49.8 346.5 54.1 342.6 53.7M342.6 98.5C346.5 98.1 346.5 102.3 342.6 101.9M342.6 101.7C346.5 101.3 346.5 105.5 342.6 105.1M292 98.2C295.9 97.8 295.9 102.2 292 101.8M292 101.6C295.9 101.2 295.9 105.4 292 105M437.5 25.1C441.4 24.7 441.4 29 437.5 28.6M437.5 31.6C441.4 31.2 441.4 35.5 437.5 35.1M437.5 34.9C441.4 34.5 441.4 38.7 437.5 38.3M437.5 44.6C441.4 44.2 441.4 48.4 437.5 48M437.5 108.3C441.4 107.9 441.4 112.1 437.5 111.7M437.5 114.7C441.4 114.3 441.4 118.5 437.5 118.1M437.5 121.7C441.4 121.3 441.4 125.5 437.5 125.1M437.5 128.3C441.4 127.9 441.4 132.1 437.5 131.7M437.5 141.3C441.4 140.9 441.4 145.1 437.5 144.7M437.5 155.3C441.4 154.9 441.4 159.1 437.5 158.7M437.5 161.3C441.4 160.9 441.4 165.1 437.5 164.7M437.5 164.7C441.4 164.3 441.4 168.5 437.5 168.1M437.5 167.9C441.4 167.5 441.4 171.7 437.5 171.3M437.5 171.1C441.4 170.7 441.4 174.9 437.5 174.5M490.4 37.65C494.3 37.25 494.3 41.75 490.4 41.35M490.4 43.5C494.3 43.1 494.3 47.6 490.4 47.2M490.4 47C494.3 46.6 494.3 51.1 490.4 50.7M490.4 50.5C494.3 50.1 494.3 54.6 490.4 54.2M490.4 112.8C494.3 112.4 494.3 116.5 490.4 116.1M490.4 136.3C494.3 135.9 494.3 140.1 490.4 139.7M490.4 142.1C494.3 141.7 494.3 145.7 490.4 145.3M490.4 145.1C494.3 144.7 494.3 148.7 490.4 148.3M490.4 148.1C494.3 147.7 494.3 151.7 490.4 151.3" stroke="#fb2020" stroke-width="0.95" fill="none"/>
</g>
<g id="panel-b">
<path d="M82.8 209.3A63.6 63.6 0 0 1 113.17 212.16L111.06 218.2A57.2 57.2 0 0 0 83.75 215.63Z" fill="#f7931e"/>
<path d="M82.8 209.3A63.6 63.6 0 0 1 84.18 209.11L84.99 215.46A57.2 57.2 0 0 0 83.75 215.63Z" fill="#f7931e"/>
<path d="M84.02 209.13A63.6 63.6 0 0 1 85.41 208.96L86.09 215.33A57.2 57.2 0 0 0 84.84 215.48Z" fill="#f7931e"/>
<path d="M85.24 208.98A63.6 63.6 0 0 1 86.63 208.84L87.19 215.22A57.2 57.2 0 0 0 85.94 215.34Z" fill="#f9a01f"/>
<path d="M86.47 208.86A63.6 63.6 0 0 1 87.86 208.75L88.3 215.13A57.2 57.2 0 0 0 87.05 215.23Z" fill="#f7931e"/>
<path d="M87.7 208.76A63.6 63.6 0 0 1 89.09 208.68L89.41 215.07A57.2 57.2 0 0 0 88.15 215.14Z" fill="#f68b1f"/>
<path d="M88.93 208.68A63.6 63.6 0 0 1 90.32 208.63L90.51 215.02A57.2 57.2 0 0 0 89.26 215.08Z" fill="#f9a01f"/>
<path d="M90.16 208.63A63.6 63.6 0 0 1 91.56 208.6L91.62 215A57.2 57.2 0 0 0 90.36 215.03Z" fill="#f68b1f"/>
<path d="M91.39 208.61A63.6 63.6 0 0 1 92.79 208.6L92.73 215A57.2 57.2 0 0 0 91.47 215Z" fill="#ffd23c"/>
<path d="M92.62 208.6A63.6 63.6 0 0 1 94.02 208.63L93.84 215.02A57.2 57.2 0 0 0 92.58 215Z" fill="#f68b1f"/>
<path d="M93.85 208.62A63.6 63.6 0 0 1 95.25 208.67L94.94 215.07A57.2 57.2 0 0 0 93.69 215.02Z" fill="#f7931e"/>
<path d="M95.09 208.67A63.6 63.6 0 0 1 96.48 208.74L96.05 215.13A57.2 57.2 0 0 0 94.79 215.06Z" fill="#fbb03b"/>
<path d="M96.32 208.73A63.6 63.6 0 0 1 97.71 208.84L97.16 215.22A57.2 57.2 0 0 0 95.9 215.12Z" fill="#f26522"/>
<path d="M97.54 208.82A63.6 63.6 0 0 1 98.94 208.96L98.26 215.32A57.2 57.2 0 0 0 97.01 215.2Z" fill="#f26522"/>
<path d="M98.77 208.94A63.6 63.6 0 0 1 100.16 209.1L99.36 215.45A57.2 57.2 0 0 0 98.11 215.31Z" fill="#f26522"/>
<path d="M99.99 209.08A63.6 63.6 0 0 1 101.38 209.27L100.46 215.6A57.2 57.2 0 0 0 99.21 215.43Z" fill="#f36f21"/>
<path d="M101.22 209.24A63.6 63.6 0 0 1 102.6 209.46L101.55 215.77A57.2 57.2 0 0 0 100.31 215.58Z" fill="#f9a01f"/>
<path d="M102.43 209.43A63.6 63.6 0 0 1 103.81 209.67L102.64 215.96A57.2 57.2 0 0 0 101.4 215.75Z" fill="#f58220"/>
<path d="M103.65 209.64A63.6 63.6 0 0 1 105.02 209.91L103.73 216.17A57.2 57.2 0 0 0 102.5 215.93Z" fill="#f58220"/>
<path d="M104.86 209.87A63.6 63.6 0 0 1 106.23 210.17L104.81 216.41A57.2 57.2 0 0 0 103.58 216.14Z" fill="#f7931e"/>
<path d="M106.06 210.13A63.6 63.6 0 0 1 107.42 210.45L105.89 216.66A57.2 57.2 0 0 0 104.67 216.38Z" fill="#fcc24a"/>
<path d="M107.26 210.41A63.6 63.6 0 0 1 108.62 210.76L106.97 216.94A57.2 57.2 0 0 0 105.75 216.63Z" fill="#f58220"/>
<path d="M108.46 210.71A63.6 63.6 0 0 1 109.81 211.09L108.03 217.24A57.2 57.2 0 0 0 106.82 216.9Z" fill="#f7931e"/>
<path d="M109.65 211.04A63.6 63.6 0 0 1 110.99 211.44L109.1 217.55A57.2 57.2 0 0 0 107.89 217.19Z" fill="#f36f21"/>
<path d="M110.83 211.39A63.6 63.6 0 0 1 112.16 211.81L110.15 217.89A57.2 57.2 0 0 0 108.95 217.51Z" fill="#f9a01f"/>
<path d="M112 211.76A63.6 63.6 0 0 1 113.17 212.16L111.06 218.2A57.2 57.2 0 0 0 110.01 217.84Z" fill="#f36f21"/>
<path d="M81.6 201.29A71.7 71.7 0 0 1 115.84 204.51L113.73 210.55A65.3 65.3 0 0 0 82.55 207.62Z" fill="#fff" stroke="#777" stroke-width="0.45"/>
<path d="M82.73 207.29L82.28 204.23L82.93 204.14L82.98 204.51L83.63 204.42L83.58 204L84.23 203.92L84.2 203.7L84.86 203.63L84.82 203.28L85.48 203.21L85.61 204.57L86.26 204.51L86.22 204.04L86.87 203.99L86.9 204.45L87.55 204.4L87.47 203.18L88.12 203.14L88.12 203L88.78 202.97L88.85 204.34L89.49 204.31L89.48 203.96L90.13 203.94L90.1 203.07L90.76 203.05L90.72 200.82L91.4 200.8L91.44 204.47L92.09 204.47L92.09 203.92L92.74 203.93L92.75 202.44L93.42 202.44L93.38 204.71L94.02 204.72L94.04 203.93L94.69 203.95L94.8 201.03L95.48 201.06L95.35 203.88L96 203.91L95.98 204.35L96.63 204.39L96.66 203.85L97.31 203.89L97.25 204.69L97.9 204.74L98.02 203.29L98.68 203.34L98.85 201.5L99.53 201.57L99.2 204.7L99.85 204.77L99.81 205.07L100.45 205.14L100.58 204.14L101.22 204.23L101.27 203.89L101.92 203.98L101.88 204.29L102.52 204.39L102.41 205.11L103.05 205.22L103 205.52L103.64 205.63L104.22 202.25L104.89 202.37L104.9 202.32L105.56 202.44L105.63 202.08L106.3 202.21L106.29 202.29L106.95 202.43L106.26 205.68L106.9 205.82L107.17 204.58L107.82 204.73L107.7 205.22L108.34 205.37L108.08 206.45L108.71 206.61L109.18 204.74L109.82 204.9L109.77 205.09L110.41 205.26L110.42 205.23L111.06 205.41L111.11 205.22L111.75 205.4L111.49 206.29L112.12 206.48L112.3 205.89L112.93 206.09L113.47 204.37L114.11 204.58L113.11 207.68L113.72 207.88L114.28 206.22L114.91 206.43L113.61 210.19A65.6 65.6 0 0 0 82.73 207.29Z" fill="#f21f1f"/>
<path d="M79.99 190.51A82.6 82.6 0 0 1 119.43 194.22L117.12 200.83A75.6 75.6 0 0 0 81.03 197.43Z" fill="#fff" stroke="#777" stroke-width="0.45"/>
<path d="M81.22 193.09L81.88 193.41L82.52 193.66L82.98 192.46L83.5 191.61L84.44 194.76L85.06 195.11L85.71 195.8L86.29 195.75L86.77 194.21L87.45 195.51L87.85 192.24L88.58 194.73L89.15 194.35L89.65 191.51L90.28 192.19L90.92 194.09L91.52 194.33L92.11 193.43L92.72 191.91L93.32 192.72L93.89 194.06L94.51 193.32L95.17 191.63L95.81 190.93L96.44 190.76L97.06 190.86L97.48 193.81L98.08 193.7L98.67 193.83L99.26 194.01L99.82 194.42L100.55 193.11L101.08 193.77L101.55 194.92L102.14 194.94L102.63 195.76L103.57 193.34L104.39 192L104.87 192.9L105.24 194.38L105.67 195.37L106.12 196.22L106.91 195.18L107.79 193.81L107.93 196.17L109.06 193.71L109.17 196.03L110.07 194.75L110.33 196.28L111.28 194.87L112.29 193.38L112.38 195.44L112.83 196.1L113.29 196.67L113.52 198.02L114.31 197.44L114.91 197.5L115.64 197.15L116.57 196.2L116.84 197.32L117.49 197.26" fill="none" stroke="#f23838" stroke-width="1.25" stroke-linejoin="round" stroke-linecap="round" stroke-dasharray="0.01 1.05"/>
<path d="M87.5 218.81L87.22 215.62M93.98 218.63L94.09 215.43M100.44 219.24L100.93 216.08M106.78 220.62L107.65 217.54" stroke="#f47b3a" stroke-width="0.4"/>
<path d="M84.43 220.18A52.6 52.6 0 0 1 109.54 222.54L107.3 228.96A45.8 45.8 0 0 0 85.43 226.9Z" fill="#e8e4e1" stroke="#707070" stroke-width="0.55"/>
<text transform="translate(96.81 223.22) rotate(5.38)" font-family="'Liberation Sans', sans-serif" font-size="2.2" fill="#f7941d" text-anchor="middle" dy="0.8">Chr01</text>
<path d="M118.32 214.21A63.6 63.6 0 0 1 132.65 223.12L128.58 228.06A57.2 57.2 0 0 0 115.69 220.05Z" fill="#f7931e"/>
<path d="M118.32 214.21A63.6 63.6 0 0 1 119.65 214.83L116.89 220.6A57.2 57.2 0 0 0 115.69 220.05Z" fill="#f9a01f"/>
<path d="M119.5 214.76A63.6 63.6 0 0 1 120.82 215.4L117.94 221.12A57.2 57.2 0 0 0 116.76 220.54Z" fill="#f7931e"/>
<path d="M120.67 215.33A63.6 63.6 0 0 1 121.98 216L118.98 221.66A57.2 57.2 0 0 0 117.81 221.05Z" fill="#f9a01f"/>
<path d="M121.83 215.92A63.6 63.6 0 0 1 123.12 216.62L120.01 222.22A57.2 57.2 0 0 0 118.85 221.59Z" fill="#f36f21"/>
<path d="M122.98 216.54A63.6 63.6 0 0 1 124.25 217.27L121.03 222.8A57.2 57.2 0 0 0 119.88 222.14Z" fill="#ffd23c"/>
<path d="M124.11 217.18A63.6 63.6 0 0 1 125.37 217.94L122.03 223.4A57.2 57.2 0 0 0 120.9 222.72Z" fill="#f36f21"/>
<path d="M125.23 217.85A63.6 63.6 0 0 1 126.48 218.63L123.03 224.02A57.2 57.2 0 0 0 121.91 223.32Z" fill="#f7931e"/>
<path d="M126.34 218.54A63.6 63.6 0 0 1 127.57 219.34L124.01 224.66A57.2 57.2 0 0 0 122.9 223.94Z" fill="#f7931e"/>
<path d="M127.43 219.25A63.6 63.6 0 0 1 128.64 220.08L124.97 225.32A57.2 57.2 0 0 0 123.88 224.58Z" fill="#f36f21"/>
<path d="M128.5 219.98A63.6 63.6 0 0 1 129.7 220.83L125.93 226A57.2 57.2 0 0 0 124.85 225.23Z" fill="#fcc24a"/>
<path d="M129.57 220.73A63.6 63.6 0 0 1 130.74 221.61L126.87 226.7A57.2 57.2 0 0 0 125.81 225.91Z" fill="#f68b1f"/>
<path d="M130.61 221.51A63.6 63.6 0 0 1 131.77 222.41L127.79 227.42A57.2 57.2 0 0 0 126.75 226.61Z" fill="#fbb03b"/>
<path d="M131.64 222.31A63.6 63.6 0 0 1 132.65 223.12L128.58 228.06A57.2 57.2 0 0 0 127.67 227.33Z" fill="#f7931e"/>
<path d="M121.65 206.83A71.7 71.7 0 0 1 137.81 216.87L133.74 221.81A65.3 65.3 0 0 0 119.02 212.66Z" fill="#fff" stroke="#777" stroke-width="0.45"/>
<path d="M119.35 212.48L121.64 207.44L122.26 207.73L121.6 209.16L122.2 209.44L122.11 209.64L122.7 209.93L122.16 211.04L122.75 211.34L122.71 211.41L123.29 211.71L124 210.31L124.6 210.62L124.69 210.44L125.29 210.75L125.2 210.91L125.79 211.23L124.82 212.99L125.38 213.31L126.4 211.51L126.98 211.84L127.1 211.63L127.68 211.97L127.55 212.19L128.12 212.53L127.65 213.33L128.21 213.67L128.11 213.84L128.66 214.18L128.45 214.52L129 214.87L130.77 212.12L131.35 212.49L129.23 215.72L129.77 216.07L131 214.24L131.56 214.61L130.61 216.01L131.14 216.38L131.69 215.6L132.23 215.98L132.23 215.98L132.76 216.37L133.08 215.94L133.62 216.33L132.82 217.41L133.34 217.8L134.32 216.51L134.85 216.91L134.67 217.15L135.2 217.56L134.14 218.9L134.65 219.31L135.86 217.8L136.38 218.22L133.75 221.44A65.6 65.6 0 0 0 119.35 212.48Z" fill="#f21f1f"/>
<path d="M126.13 196.89A82.6 82.6 0 0 1 144.74 208.46L140.29 213.87A75.6 75.6 0 0 0 123.25 203.27Z" fill="#fff" stroke="#777" stroke-width="0.45"/>
<path d="M124.58 202.28L125.94 200.75L127.19 199.51L127.11 201.02L126.75 203.07L128.15 201.57L128.4 202.38L129.08 202.35L130.57 200.81L130.64 201.93L131.22 202.12L130.41 204.75L130.8 205.22L131.45 205.27L131.43 206.41L132.53 205.71L133.13 205.83L135.12 203.74L134.59 205.69L134.11 207.51L136.25 205.3L135.7 207.2L135.78 208.11L136.5 208.09L136.44 209.18L137.22 209.07L138.71 207.99L138.49 209.29L140.07 208.15L139.14 210.36L141.03 208.84L140.19 210.88L141.41 210.28L141.59 210.99" fill="none" stroke="#f23838" stroke-width="1.25" stroke-linejoin="round" stroke-linecap="round" stroke-dasharray="0.01 1.05"/>
<path d="M117.42 224.9L118.92 222.08M123.47 228.67L125.34 226.07" stroke="#f47b3a" stroke-width="0.4"/>
<path d="M113.8 224.24A52.6 52.6 0 0 1 125.66 231.61L121.33 236.86A45.8 45.8 0 0 0 111.01 230.44Z" fill="#e8e4e1" stroke="#707070" stroke-width="0.55"/>
<text transform="translate(118.18 230.42) rotate(31.88)" font-family="'Liberation Sans', sans-serif" font-size="2.2" fill="#f7941d" text-anchor="middle" dy="0.8">Chr02</text>
<path d="M136.78 226.84A63.6 63.6 0 0 1 148.36 242.34L142.7 245.35A57.2 57.2 0 0 0 132.29 231.4Z" fill="#f7931e"/>
<path d="M136.78 226.84A63.6 63.6 0 0 1 137.81 227.87L133.22 232.33A57.2 57.2 0 0 0 132.29 231.4Z" fill="#f7931e"/>
<path d="M137.69 227.75A63.6 63.6 0 0 1 138.7 228.81L134.02 233.18A57.2 57.2 0 0 0 133.11 232.23Z" fill="#f68b1f"/>
<path d="M138.59 228.69A63.6 63.6 0 0 1 139.58 229.77L134.81 234.04A57.2 57.2 0 0 0 133.92 233.07Z" fill="#f58220"/>
<path d="M139.46 229.64A63.6 63.6 0 0 1 140.43 230.74L135.58 234.91A57.2 57.2 0 0 0 134.71 233.93Z" fill="#f58220"/>
<path d="M140.32 230.61A63.6 63.6 0 0 1 141.26 231.73L136.33 235.8A57.2 57.2 0 0 0 135.48 234.8Z" fill="#f68b1f"/>
<path d="M141.16 231.6A63.6 63.6 0 0 1 142.08 232.74L137.06 236.71A57.2 57.2 0 0 0 136.23 235.69Z" fill="#fbb03b"/>
<path d="M141.97 232.61A63.6 63.6 0 0 1 142.87 233.76L137.77 237.63A57.2 57.2 0 0 0 136.97 236.59Z" fill="#f26522"/>
<path d="M142.77 233.63A63.6 63.6 0 0 1 143.64 234.8L138.47 238.57A57.2 57.2 0 0 0 137.68 237.51Z" fill="#f58220"/>
<path d="M143.54 234.67A63.6 63.6 0 0 1 144.39 235.86L139.14 239.51A57.2 57.2 0 0 0 138.38 238.44Z" fill="#f58220"/>
<path d="M144.3 235.72A63.6 63.6 0 0 1 145.12 236.93L139.8 240.48A57.2 57.2 0 0 0 139.06 239.39Z" fill="#ffd23c"/>
<path d="M145.03 236.79A63.6 63.6 0 0 1 145.83 238.01L140.43 241.45A57.2 57.2 0 0 0 139.71 240.35Z" fill="#fcc24a"/>
<path d="M145.74 237.87A63.6 63.6 0 0 1 146.51 239.11L141.05 242.44A57.2 57.2 0 0 0 140.35 241.33Z" fill="#f58220"/>
<path d="M146.43 238.97A63.6 63.6 0 0 1 147.18 240.22L141.64 243.44A57.2 57.2 0 0 0 140.97 242.31Z" fill="#fcc24a"/>
<path d="M147.09 240.08A63.6 63.6 0 0 1 147.82 241.35L142.22 244.45A57.2 57.2 0 0 0 141.57 243.31Z" fill="#fcc24a"/>
<path d="M147.74 241.2A63.6 63.6 0 0 1 148.36 242.34L142.7 245.35A57.2 57.2 0 0 0 142.15 244.32Z" fill="#f68b1f"/>
<path d="M142.46 221.06A71.7 71.7 0 0 1 155.51 238.54L149.86 241.54A65.3 65.3 0 0 0 137.97 225.62Z" fill="#fff" stroke="#777" stroke-width="0.45"/>
<path d="M138.34 225.57L141.03 222.86L141.5 223.33L141.49 223.34L141.96 223.82L142.07 223.71L142.53 224.19L142.2 224.51L142.66 225L142.86 224.81L143.31 225.3L143.87 224.78L144.32 225.28L143.8 225.76L144.24 226.25L143.88 226.57L144.32 227.07L144.41 226.99L144.85 227.5L143.66 228.5L144.08 229L145.39 227.91L145.82 228.42L145.44 228.73L145.85 229.24L145.01 229.92L145.42 230.43L147.17 229.05L147.58 229.58L146.18 230.66L146.58 231.19L146.47 231.27L146.86 231.79L148.28 230.74L148.68 231.28L147.57 232.08L147.96 232.62L148.52 232.22L148.91 232.76L148.78 232.85L149.16 233.39L149.62 233.08L149.99 233.63L148.83 234.41L149.19 234.95L149.29 234.89L149.65 235.44L150.6 234.83L150.95 235.4L149.93 236.04L150.27 236.6L151.1 236.09L151.45 236.66L150.66 237.13L150.99 237.7L151.34 237.5L151.67 238.07L150.98 238.46L151.3 239.03L151.46 238.94L151.78 239.51L154.8 237.86L155.13 238.46L150.01 241.2A65.6 65.6 0 0 0 138.34 225.57Z" fill="#f21f1f"/>
<path d="M150.1 213.29A82.6 82.6 0 0 1 165.13 233.42L158.95 236.71A75.6 75.6 0 0 0 145.19 218.28Z" fill="#fff" stroke="#777" stroke-width="0.45"/>
<path d="M148.11 216.49L149.57 215.88L150.75 215.57L149.83 217.3L149.28 218.63L149.2 219.5L151.74 217.97L150.49 219.9L151.55 219.75L150.75 221.23L151.99 220.93L154.01 220L152.24 222.26L154.2 221.41L154.04 222.31L155.49 221.92L155.58 222.62L154.3 224.37L156.38 223.52L155.88 224.65L154.42 226.46L154.26 227.29L155.95 226.79L156.59 227.05L156.51 227.83L156.15 228.78L156.98 228.92L157.35 229.37L159.54 228.66L157.45 230.69L159.7 229.97L160.92 229.92L158.92 231.84L161.43 231.02L161.63 231.6L162.59 231.75L160.85 233.43L160.83 234.11L161.09 234.64" fill="none" stroke="#f23838" stroke-width="1.25" stroke-linejoin="round" stroke-linecap="round" stroke-dasharray="0.01 1.05"/>
<path d="M132.58 236.95L134.99 234.84M137.47 243.5L140.17 241.79" stroke="#f47b3a" stroke-width="0.4"/>
<path d="M129.07 234.68A52.6 52.6 0 0 1 138.64 247.51L132.64 250.7A45.8 45.8 0 0 0 124.3 239.53Z" fill="#e8e4e1" stroke="#707070" stroke-width="0.55"/>
<text transform="translate(131.62 242.76) rotate(53.25)" font-family="'Liberation Sans', sans-serif" font-size="2.2" fill="#f7941d" text-anchor="middle" dy="0.8">Chr03</text>
<path d="M150.74 247.35A63.6 63.6 0 0 1 155.59 267.04L149.21 267.56A57.2 57.2 0 0 0 144.85 249.85Z" fill="#f7931e"/>
<path d="M150.74 247.35A63.6 63.6 0 0 1 151.29 248.68L145.35 251.05A57.2 57.2 0 0 0 144.85 249.85Z" fill="#f68b1f"/>
<path d="M151.23 248.53A63.6 63.6 0 0 1 151.75 249.87L145.76 252.12A57.2 57.2 0 0 0 145.29 250.91Z" fill="#f7931e"/>
<path d="M151.69 249.71A63.6 63.6 0 0 1 152.19 251.06L146.15 253.19A57.2 57.2 0 0 0 145.71 251.98Z" fill="#f7931e"/>
<path d="M152.13 250.91A63.6 63.6 0 0 1 152.6 252.27L146.52 254.28A57.2 57.2 0 0 0 146.1 253.05Z" fill="#f7931e"/>
<path d="M152.54 252.11A63.6 63.6 0 0 1 152.98 253.48L146.87 255.37A57.2 57.2 0 0 0 146.47 254.13Z" fill="#f36f21"/>
<path d="M152.93 253.32A63.6 63.6 0 0 1 153.35 254.7L147.19 256.46A57.2 57.2 0 0 0 146.82 255.22Z" fill="#f58220"/>
<path d="M153.3 254.54A63.6 63.6 0 0 1 153.68 255.93L147.5 257.57A57.2 57.2 0 0 0 147.15 256.32Z" fill="#f36f21"/>
<path d="M153.64 255.77A63.6 63.6 0 0 1 154 257.16L147.78 258.68A57.2 57.2 0 0 0 147.46 257.42Z" fill="#fbb03b"/>
<path d="M153.96 257A63.6 63.6 0 0 1 154.29 258.4L148.04 259.79A57.2 57.2 0 0 0 147.74 258.53Z" fill="#fbb03b"/>
<path d="M154.25 258.24A63.6 63.6 0 0 1 154.55 259.65L148.28 260.91A57.2 57.2 0 0 0 148.01 259.65Z" fill="#f7931e"/>
<path d="M154.52 259.49A63.6 63.6 0 0 1 154.79 260.9L148.49 262.04A57.2 57.2 0 0 0 148.25 260.77Z" fill="#f7931e"/>
<path d="M154.76 260.74A63.6 63.6 0 0 1 155 262.15L148.68 263.17A57.2 57.2 0 0 0 148.46 261.89Z" fill="#fcc24a"/>
<path d="M154.98 261.99A63.6 63.6 0 0 1 155.19 263.41L148.85 264.3A57.2 57.2 0 0 0 148.66 263.02Z" fill="#f58220"/>
<path d="M155.17 263.25A63.6 63.6 0 0 1 155.35 264.68L149 265.43A57.2 57.2 0 0 0 148.83 264.15Z" fill="#f58220"/>
<path d="M155.33 264.51A63.6 63.6 0 0 1 155.49 265.94L149.12 266.57A57.2 57.2 0 0 0 148.98 265.28Z" fill="#f68b1f"/>
<path d="M155.47 265.78A63.6 63.6 0 0 1 155.59 267.04L149.21 267.56A57.2 57.2 0 0 0 149.11 266.42Z" fill="#f7931e"/>
<path d="M158.2 244.18A71.7 71.7 0 0 1 163.66 266.39L157.29 266.91A65.3 65.3 0 0 0 152.31 246.69Z" fill="#fff" stroke="#777" stroke-width="0.45"/>
<path d="M152.67 246.78L156.27 245.27L156.52 245.88L156.61 245.84L156.86 246.45L155.28 247.08L155.51 247.68L155.75 247.59L155.98 248.2L156.96 247.83L157.19 248.44L156.47 248.7L156.69 249.32L156.86 249.26L157.08 249.87L156.29 250.14L156.49 250.75L156.4 250.78L156.6 251.4L158.21 250.87L158.41 251.5L157.62 251.75L157.81 252.37L158.48 252.17L158.67 252.8L158.21 252.93L158.39 253.56L157.56 253.79L157.73 254.41L158.05 254.33L158.22 254.95L159.31 254.67L159.47 255.31L157.71 255.75L157.87 256.37L158.68 256.18L158.83 256.81L158.44 256.9L158.58 257.53L159.8 257.26L159.94 257.9L159.54 257.98L159.67 258.62L159.92 258.57L160.05 259.22L160.28 259.17L160.4 259.82L158.82 260.11L158.94 260.74L159.6 260.62L159.7 261.26L159.81 261.25L159.91 261.89L160.78 261.76L160.88 262.41L159.31 262.63L159.4 263.27L160.85 263.08L160.94 263.73L161.4 263.67L161.48 264.33L159.44 264.56L159.51 265.2L161.46 265L161.53 265.65L160.47 265.75L160.53 266.4L157.57 266.65A65.6 65.6 0 0 0 152.67 246.78Z" fill="#f21f1f"/>
<path d="M168.23 239.93A82.6 82.6 0 0 1 174.53 265.5L167.55 266.07A75.6 75.6 0 0 0 161.79 242.66Z" fill="#fff" stroke="#777" stroke-width="0.45"/>
<path d="M166.43 241.6L164.81 242.91L164.19 243.78L167.36 243.18L165.08 244.68L167.35 244.47L167.69 244.98L168.51 245.33L169.08 245.77L166.17 247.39L168.18 247.35L165.81 248.73L165.71 249.37L167.58 249.4L166.12 250.45L168.53 250.36L170.36 250.46L169.67 251.28L169.16 252.03L168.74 252.75L170.05 253.04L167.82 254.19L168.07 254.73L170.87 254.7L168.71 255.78L168.43 256.44L170.61 256.6L168.08 257.69L169.61 258L172.04 258.17L169.87 259.15L169.44 259.82L171.54 260.09L169.76 260.95L170.46 261.45L170.81 262L168.8 262.84L169.84 263.3L171.19 263.75L169.16 264.55L169.16 265.13" fill="none" stroke="#f23838" stroke-width="1.25" stroke-linejoin="round" stroke-linecap="round" stroke-dasharray="0.01 1.05"/>
<path d="M142.59 253.92L145.59 252.83M144.25 259.39L147.35 258.63M145.32 265.01L148.49 264.58" stroke="#f47b3a" stroke-width="0.4"/>
<path d="M140.62 251.65A52.6 52.6 0 0 1 144.63 267.94L137.85 268.49A45.8 45.8 0 0 0 134.36 254.3Z" fill="#e8e4e1" stroke="#707070" stroke-width="0.55"/>
<text transform="translate(139.97 260.44) rotate(76.17)" font-family="'Liberation Sans', sans-serif" font-size="2.2" fill="#f7941d" text-anchor="middle" dy="0.8">Chr04</text>
<path d="M155.8 272.59A63.6 63.6 0 0 1 152.11 293.53L146.09 291.39A57.2 57.2 0 0 0 149.4 272.55Z" fill="#f7931e"/>
<path d="M155.8 272.59A63.6 63.6 0 0 1 155.77 274.01L149.38 273.83A57.2 57.2 0 0 0 149.4 272.55Z" fill="#f7931e"/>
<path d="M155.78 273.85A63.6 63.6 0 0 1 155.73 275.27L149.33 274.96A57.2 57.2 0 0 0 149.38 273.68Z" fill="#f36f21"/>
<path d="M155.73 275.1A63.6 63.6 0 0 1 155.65 276.52L149.27 276.09A57.2 57.2 0 0 0 149.34 274.81Z" fill="#f7931e"/>
<path d="M155.66 276.36A63.6 63.6 0 0 1 155.56 277.78L149.18 277.21A57.2 57.2 0 0 0 149.28 275.94Z" fill="#f7931e"/>
<path d="M155.57 277.61A63.6 63.6 0 0 1 155.43 279.03L149.07 278.34A57.2 57.2 0 0 0 149.19 277.07Z" fill="#f58220"/>
<path d="M155.45 278.86A63.6 63.6 0 0 1 155.29 280.27L148.94 279.46A57.2 57.2 0 0 0 149.09 278.19Z" fill="#f7931e"/>
<path d="M155.31 280.11A63.6 63.6 0 0 1 155.11 281.52L148.78 280.58A57.2 57.2 0 0 0 148.96 279.31Z" fill="#f7931e"/>
<path d="M155.14 281.36A63.6 63.6 0 0 1 154.92 282.76L148.61 281.7A57.2 57.2 0 0 0 148.8 280.43Z" fill="#f36f21"/>
<path d="M154.94 282.6A63.6 63.6 0 0 1 154.7 284L148.41 282.81A57.2 57.2 0 0 0 148.63 281.55Z" fill="#fcc24a"/>
<path d="M154.73 283.84A63.6 63.6 0 0 1 154.45 285.23L148.19 283.92A57.2 57.2 0 0 0 148.43 282.66Z" fill="#f26522"/>
<path d="M154.48 285.07A63.6 63.6 0 0 1 154.18 286.46L147.94 285.02A57.2 57.2 0 0 0 148.22 283.77Z" fill="#f36f21"/>
<path d="M154.22 286.3A63.6 63.6 0 0 1 153.89 287.68L147.68 286.12A57.2 57.2 0 0 0 147.98 284.88Z" fill="#f7931e"/>
<path d="M153.93 287.52A63.6 63.6 0 0 1 153.57 288.9L147.39 287.22A57.2 57.2 0 0 0 147.72 285.98Z" fill="#f7931e"/>
<path d="M153.61 288.74A63.6 63.6 0 0 1 153.23 290.11L147.09 288.3A57.2 57.2 0 0 0 147.43 287.07Z" fill="#f36f21"/>
<path d="M153.27 289.95A63.6 63.6 0 0 1 152.86 291.31L146.76 289.39A57.2 57.2 0 0 0 147.13 288.16Z" fill="#f68b1f"/>
<path d="M152.91 291.15A63.6 63.6 0 0 1 152.47 292.5L146.41 290.46A57.2 57.2 0 0 0 146.8 289.24Z" fill="#f58220"/>
<path d="M152.52 292.35A63.6 63.6 0 0 1 152.11 293.53L146.09 291.39A57.2 57.2 0 0 0 146.45 290.32Z" fill="#f26522"/>
<path d="M163.9 272.64A71.7 71.7 0 0 1 159.75 296.25L153.72 294.1A65.3 65.3 0 0 0 157.5 272.6Z" fill="#fff" stroke="#777" stroke-width="0.45"/>
<path d="M157.8 272.83L160.66 272.86L160.65 273.5L163.59 273.56L163.57 274.23L160.58 274.14L160.56 274.79L163.55 274.9L163.52 275.57L161.54 275.48L161.51 276.13L160.5 276.07L160.46 276.71L161.58 276.79L161.53 277.44L161.8 277.46L161.74 278.11L162.01 278.13L161.95 278.79L161.54 278.75L161.48 279.4L159.41 279.19L159.34 279.82L160.13 279.91L160.06 280.55L161.74 280.75L161.66 281.41L159.12 281.07L159.03 281.7L159.83 281.81L159.74 282.45L159.22 282.37L159.12 283L159.31 283.03L159.2 283.66L160.6 283.9L160.48 284.54L161.37 284.7L161.25 285.35L159.58 285.03L159.45 285.66L162.21 286.22L162.08 286.87L159.08 286.24L158.94 286.87L158.19 286.71L158.05 287.33L159.81 287.73L159.66 288.36L159.68 288.37L159.53 289L157.83 288.58L157.67 289.2L158.11 289.31L157.94 289.93L159.37 290.31L159.19 290.94L157.81 290.55L157.63 291.17L158.39 291.39L158.21 292.01L158.43 292.08L158.24 292.7L158.99 292.93L158.79 293.56L158.13 293.35L157.93 293.97L157.66 293.88L157.46 294.49L156.13 294.04L155.92 294.64L154.08 293.99A65.6 65.6 0 0 0 157.8 272.83Z" fill="#f21f1f"/>
<path d="M174.8 272.7A82.6 82.6 0 0 1 170.01 299.91L163.42 297.56A75.6 75.6 0 0 0 167.8 272.66Z" fill="#fff" stroke="#777" stroke-width="0.45"/>
<path d="M171.18 273.51L173.16 274.15L173.73 274.78L171.5 275.3L170.25 275.84L170.6 276.44L170.95 277.06L172.84 277.78L170.26 278.19L172.04 278.93L172.27 279.55L172.65 280.2L172.51 280.79L171.73 281.31L170.28 281.74L169.76 282.27L169.72 282.86L171.4 283.69L168.92 283.92L168.6 284.46L170.74 285.41L169.22 285.75L167.94 286.11L167.43 286.6L169.23 287.54L168.78 288.05L171.24 289.18L171.49 289.86L171.71 290.53L168.97 290.51L167.25 290.69L166.69 291.15L168.06 292.1L169.21 293.03L168.38 293.42L167.16 293.68L167.42 294.37L168.19 295.22L168.51 295.94L168.78 296.65L169.12 297.4L168.36 297.79L165.84 297.56" fill="none" stroke="#f23838" stroke-width="1.25" stroke-linejoin="round" stroke-linecap="round" stroke-dasharray="0.01 1.05"/>
<path d="M145.7 275.53L148.89 275.73M144.99 281.48L148.14 282.04M143.62 287.33L146.69 288.23" stroke="#f47b3a" stroke-width="0.4"/>
<path d="M144.8 272.52A52.6 52.6 0 0 1 141.75 289.84L135.35 287.56A45.8 45.8 0 0 0 138 272.48Z" fill="#e8e4e1" stroke="#707070" stroke-width="0.55"/>
<text transform="translate(140.66 280.72) rotate(279.98)" font-family="'Liberation Sans', sans-serif" font-size="2.2" fill="#f7941d" text-anchor="middle" dy="0.8">Chr05</text>
<path d="M150.03 298.68A63.6 63.6 0 0 1 141.28 312.65L136.34 308.58A57.2 57.2 0 0 0 144.21 296.01Z" fill="#f7931e"/>
<path d="M150.03 298.68A63.6 63.6 0 0 1 149.41 299.98L143.66 297.18A57.2 57.2 0 0 0 144.21 296.01Z" fill="#f36f21"/>
<path d="M149.49 299.83A63.6 63.6 0 0 1 148.85 301.12L143.15 298.21A57.2 57.2 0 0 0 143.72 297.05Z" fill="#f36f21"/>
<path d="M148.92 300.97A63.6 63.6 0 0 1 148.26 302.24L142.62 299.22A57.2 57.2 0 0 0 143.21 298.07Z" fill="#f58220"/>
<path d="M148.34 302.1A63.6 63.6 0 0 1 147.64 303.36L142.07 300.22A57.2 57.2 0 0 0 142.69 299.09Z" fill="#f26522"/>
<path d="M147.73 303.21A63.6 63.6 0 0 1 147.01 304.46L141.49 301.21A57.2 57.2 0 0 0 142.14 300.09Z" fill="#f7931e"/>
<path d="M147.09 304.32A63.6 63.6 0 0 1 146.35 305.55L140.9 302.19A57.2 57.2 0 0 0 141.57 301.09Z" fill="#f36f21"/>
<path d="M146.44 305.41A63.6 63.6 0 0 1 145.68 306.63L140.29 303.16A57.2 57.2 0 0 0 140.98 302.07Z" fill="#f68b1f"/>
<path d="M145.77 306.49A63.6 63.6 0 0 1 144.98 307.69L139.67 304.12A57.2 57.2 0 0 0 140.38 303.04Z" fill="#f9a01f"/>
<path d="M145.07 307.55A63.6 63.6 0 0 1 144.26 308.74L139.02 305.06A57.2 57.2 0 0 0 139.75 303.99Z" fill="#f7931e"/>
<path d="M144.35 308.6A63.6 63.6 0 0 1 143.52 309.77L138.35 305.99A57.2 57.2 0 0 0 139.1 304.94Z" fill="#f7931e"/>
<path d="M143.61 309.64A63.6 63.6 0 0 1 142.75 310.79L137.67 306.91A57.2 57.2 0 0 0 138.44 305.87Z" fill="#f9a01f"/>
<path d="M142.85 310.66A63.6 63.6 0 0 1 141.97 311.8L136.96 307.81A57.2 57.2 0 0 0 137.76 306.79Z" fill="#f7931e"/>
<path d="M142.07 311.66A63.6 63.6 0 0 1 141.28 312.65L136.34 308.58A57.2 57.2 0 0 0 137.06 307.69Z" fill="#f26522"/>
<path d="M157.39 302.05A71.7 71.7 0 0 1 147.53 317.81L142.59 313.74A65.3 65.3 0 0 0 151.57 299.38Z" fill="#fff" stroke="#777" stroke-width="0.45"/>
<path d="M151.75 299.72L155.32 301.36L155.04 301.96L154.14 301.53L153.86 302.11L154.75 302.54L154.46 303.12L152.76 302.28L152.47 302.84L155.67 304.47L155.37 305.06L152.23 303.43L151.94 303.99L152.15 304.1L151.85 304.67L153.05 305.32L152.74 305.89L151.19 305.03L150.88 305.58L152.29 306.38L151.97 306.94L150.63 306.17L150.31 306.71L150.32 306.72L150 307.26L149.99 307.26L149.65 307.8L151.37 308.86L151.02 309.41L150.84 309.29L150.48 309.84L149.62 309.28L149.27 309.82L150.21 310.44L149.85 310.98L149.15 310.51L148.79 311.05L148.62 310.93L148.26 311.46L150.22 312.83L149.83 313.37L148.12 312.15L147.75 312.67L147.49 312.49L147.11 313L148.2 313.81L147.81 314.34L148.2 314.63L147.8 315.16L146.97 314.52L146.57 315.03L147.39 315.67L146.98 316.19L146.21 315.57L145.8 316.07L142.96 313.75A65.6 65.6 0 0 0 151.75 299.72Z" fill="#f21f1f"/>
<path d="M167.3 306.58A82.6 82.6 0 0 1 155.94 324.74L150.53 320.29A75.6 75.6 0 0 0 160.94 303.67Z" fill="#fff" stroke="#777" stroke-width="0.45"/>
<path d="M164.32 306.14L163.28 306.28L162.84 306.7L164.56 308.19L162.98 308.05L161.29 307.82L160.44 308.01L159.92 308.37L161.37 309.79L160.83 310.14L161.97 311.43L159.76 310.84L158.62 310.83L158.41 311.35L160.54 313.28L159.49 313.32L159.59 314.05L160.67 315.41L160.09 315.74L157.71 314.88L157.4 315.36L156.43 315.39L155.96 315.75L155.23 315.93L155.88 317.06L157.11 318.63L157.36 319.53L157.24 320.17L155.26 319.42L156.22 320.87L153.62 319.59L155.48 321.76L153.81 321.18L154.02 322.08" fill="none" stroke="#f23838" stroke-width="1.25" stroke-linejoin="round" stroke-linecap="round" stroke-dasharray="0.01 1.05"/>
<path d="M139.38 297.63L142.2 299.15M135.69 303.53L138.28 305.41" stroke="#f47b3a" stroke-width="0.4"/>
<path d="M140.03 294.1A52.6 52.6 0 0 1 132.79 305.66L127.54 301.33A45.8 45.8 0 0 0 133.84 291.27Z" fill="#e8e4e1" stroke="#707070" stroke-width="0.55"/>
<text transform="translate(133.9 298.31) rotate(302.05)" font-family="'Liberation Sans', sans-serif" font-size="2.2" fill="#f7941d" text-anchor="middle" dy="0.8">Chr06</text>
<path d="M137.56 316.78A63.6 63.6 0 0 1 118.88 329.93L116.19 324.12A57.2 57.2 0 0 0 133 312.29Z" fill="#f7931e"/>
<path d="M137.56 316.78A63.6 63.6 0 0 1 136.54 317.8L132.08 313.21A57.2 57.2 0 0 0 133 312.29Z" fill="#f9a01f"/>
<path d="M136.66 317.68A63.6 63.6 0 0 1 135.62 318.68L131.25 314A57.2 57.2 0 0 0 132.19 313.1Z" fill="#f68b1f"/>
<path d="M135.74 318.56A63.6 63.6 0 0 1 134.67 319.54L130.4 314.77A57.2 57.2 0 0 0 131.36 313.9Z" fill="#f58220"/>
<path d="M134.8 319.43A63.6 63.6 0 0 1 133.72 320.38L129.54 315.53A57.2 57.2 0 0 0 130.51 314.67Z" fill="#f7931e"/>
<path d="M133.84 320.27A63.6 63.6 0 0 1 132.74 321.2L128.66 316.27A57.2 57.2 0 0 0 129.65 315.43Z" fill="#f68b1f"/>
<path d="M132.87 321.1A63.6 63.6 0 0 1 131.75 322.01L127.77 317A57.2 57.2 0 0 0 128.78 316.18Z" fill="#f26522"/>
<path d="M131.88 321.9A63.6 63.6 0 0 1 130.74 322.79L126.86 317.7A57.2 57.2 0 0 0 127.89 316.9Z" fill="#f7931e"/>
<path d="M130.87 322.69A63.6 63.6 0 0 1 129.72 323.56L125.94 318.39A57.2 57.2 0 0 0 126.98 317.61Z" fill="#ffd23c"/>
<path d="M129.85 323.46A63.6 63.6 0 0 1 128.68 324.3L125.01 319.06A57.2 57.2 0 0 0 126.06 318.3Z" fill="#f58220"/>
<path d="M128.82 324.2A63.6 63.6 0 0 1 127.63 325.02L124.06 319.7A57.2 57.2 0 0 0 125.13 318.97Z" fill="#f9a01f"/>
<path d="M127.76 324.93A63.6 63.6 0 0 1 126.56 325.72L123.1 320.33A57.2 57.2 0 0 0 124.19 319.62Z" fill="#f58220"/>
<path d="M126.7 325.63A63.6 63.6 0 0 1 125.48 326.4L122.13 320.94A57.2 57.2 0 0 0 123.23 320.25Z" fill="#f7931e"/>
<path d="M125.62 326.31A63.6 63.6 0 0 1 124.38 327.06L121.15 321.54A57.2 57.2 0 0 0 122.26 320.87Z" fill="#ffd23c"/>
<path d="M124.53 326.97A63.6 63.6 0 0 1 123.28 327.69L120.15 322.11A57.2 57.2 0 0 0 121.27 321.46Z" fill="#f7931e"/>
<path d="M123.42 327.61A63.6 63.6 0 0 1 122.16 328.3L119.14 322.66A57.2 57.2 0 0 0 120.28 322.03Z" fill="#ffd23c"/>
<path d="M122.3 328.22A63.6 63.6 0 0 1 121.02 328.89L118.12 323.19A57.2 57.2 0 0 0 119.27 322.59Z" fill="#f9a01f"/>
<path d="M121.17 328.82A63.6 63.6 0 0 1 119.88 329.46L117.1 323.7A57.2 57.2 0 0 0 118.26 323.12Z" fill="#f26522"/>
<path d="M120.03 329.39A63.6 63.6 0 0 1 118.88 329.93L116.19 324.12A57.2 57.2 0 0 0 117.23 323.63Z" fill="#f7931e"/>
<path d="M143.34 322.46A71.7 71.7 0 0 1 122.27 337.29L119.59 331.48A65.3 65.3 0 0 0 138.78 317.97Z" fill="#fff" stroke="#777" stroke-width="0.45"/>
<path d="M138.83 318.34L141.45 320.94L140.98 321.41L140.22 320.64L139.76 321.1L139.89 321.23L139.41 321.69L140.84 323.18L140.35 323.64L138.33 321.49L137.86 321.93L138.58 322.71L138.09 323.15L138.33 323.41L137.83 323.85L138.16 324.23L137.66 324.67L138.19 325.27L137.68 325.71L136.45 324.26L135.95 324.68L136.6 325.47L136.09 325.89L137.02 327.02L136.49 327.45L134.61 325.1L134.1 325.5L134.36 325.84L133.84 326.24L133.51 325.81L133 326.2L134.13 327.7L133.6 328.1L134.52 329.34L133.97 329.74L131.94 326.95L131.41 327.33L133.29 329.97L132.74 330.36L130.97 327.82L130.44 328.19L130.64 328.49L130.1 328.86L130.75 329.83L130.19 330.19L130.1 330.05L129.54 330.41L129.68 330.63L129.12 330.98L128.41 329.85L127.86 330.2L128.29 330.9L127.73 331.25L127.54 330.94L126.98 331.27L127.57 332.28L126.99 332.62L126.57 331.87L125.99 332.2L125.59 331.49L125.02 331.81L124.98 331.73L124.41 332.04L124.89 332.93L124.3 333.24L123.97 332.61L123.39 332.91L123.88 333.86L123.29 334.16L124.07 335.72L123.46 336.02L122.76 334.59L122.16 334.88L121.76 334.04L121.17 334.32L119.92 331.65A65.6 65.6 0 0 0 138.83 318.34Z" fill="#f21f1f"/>
<path d="M151.11 330.1A82.6 82.6 0 0 1 126.85 347.18L123.91 340.83A75.6 75.6 0 0 0 146.12 325.19Z" fill="#fff" stroke="#777" stroke-width="0.45"/>
<path d="M148.59 328.79L148.94 330.01L146.85 328.73L146.75 329.49L147.34 330.99L146.86 331.37L145.36 330.63L144.62 330.69L144.07 330.97L142.98 330.61L142.85 331.36L141.82 331.05L141.6 331.7L142.24 333.4L143 335.3L141.16 333.97L140.85 334.55L139.9 334.29L140.95 336.66L140.67 337.31L140.38 337.96L139.87 338.29L138.96 338.09L138.38 338.32L136.6 336.81L135.9 336.82L136.12 338.23L135.36 338.15L134.66 338.16L133.38 337.26L133.64 338.78L133.63 339.9L132.04 338.41L131.23 338.2L131.73 340.2L130.96 340.05L130.82 341.01L130.43 341.55L129.7 341.46L128.9 341.21L127.96 340.71L127.77 341.61L128.21 343.8L126.71 342.13L125.63 341.26L126.37 344.15" fill="none" stroke="#f23838" stroke-width="1.25" stroke-linejoin="round" stroke-linecap="round" stroke-dasharray="0.01 1.05"/>
<path d="M128.1 312L130.24 314.38M123.06 316.03L124.9 318.64M117.57 319.42L119.08 322.23" stroke="#f47b3a" stroke-width="0.4"/>
<path d="M129.72 309.07A52.6 52.6 0 0 1 114.26 319.95L111.41 313.78A45.8 45.8 0 0 0 124.87 304.3Z" fill="#e8e4e1" stroke="#707070" stroke-width="0.55"/>
<text transform="translate(120.53 312.43) rotate(324.85)" font-family="'Liberation Sans', sans-serif" font-size="2.2" fill="#f7941d" text-anchor="middle" dy="0.8">Chr07</text>
<path d="M113.74 332.04A63.6 63.6 0 0 1 95.86 335.69L95.49 329.31A57.2 57.2 0 0 0 111.58 326.02Z" fill="#f7931e"/>
<path d="M113.74 332.04A63.6 63.6 0 0 1 112.35 332.52L110.32 326.45A57.2 57.2 0 0 0 111.58 326.02Z" fill="#f26522"/>
<path d="M112.51 332.47A63.6 63.6 0 0 1 111.11 332.93L109.2 326.81A57.2 57.2 0 0 0 110.46 326.41Z" fill="#f7931e"/>
<path d="M111.26 332.88A63.6 63.6 0 0 1 109.85 333.3L108.08 327.15A57.2 57.2 0 0 0 109.35 326.77Z" fill="#f7931e"/>
<path d="M110.01 333.25A63.6 63.6 0 0 1 108.59 333.65L106.94 327.47A57.2 57.2 0 0 0 108.22 327.11Z" fill="#f7931e"/>
<path d="M108.75 333.61A63.6 63.6 0 0 1 107.32 333.98L105.8 327.76A57.2 57.2 0 0 0 107.09 327.43Z" fill="#f7931e"/>
<path d="M107.49 333.94A63.6 63.6 0 0 1 106.05 334.27L104.66 328.03A57.2 57.2 0 0 0 105.95 327.72Z" fill="#fcc24a"/>
<path d="M106.21 334.24A63.6 63.6 0 0 1 104.77 334.55L103.51 328.27A57.2 57.2 0 0 0 104.8 327.99Z" fill="#f68b1f"/>
<path d="M104.93 334.51A63.6 63.6 0 0 1 103.49 334.79L102.35 328.49A57.2 57.2 0 0 0 103.65 328.24Z" fill="#f26522"/>
<path d="M103.65 334.76A63.6 63.6 0 0 1 102.2 335.01L101.19 328.69A57.2 57.2 0 0 0 102.5 328.47Z" fill="#fcc24a"/>
<path d="M102.36 334.98A63.6 63.6 0 0 1 100.9 335.2L100.03 328.86A57.2 57.2 0 0 0 101.34 328.67Z" fill="#f7931e"/>
<path d="M101.07 335.18A63.6 63.6 0 0 1 99.6 335.37L98.86 329.01A57.2 57.2 0 0 0 100.17 328.84Z" fill="#f7931e"/>
<path d="M99.77 335.35A63.6 63.6 0 0 1 98.3 335.51L97.69 329.14A57.2 57.2 0 0 0 99.01 328.99Z" fill="#ffd23c"/>
<path d="M98.47 335.49A63.6 63.6 0 0 1 97 335.62L96.52 329.24A57.2 57.2 0 0 0 97.84 329.12Z" fill="#f7931e"/>
<path d="M97.17 335.61A63.6 63.6 0 0 1 95.86 335.69L95.49 329.31A57.2 57.2 0 0 0 96.67 329.23Z" fill="#f58220"/>
<path d="M116.49 339.66A71.7 71.7 0 0 1 96.33 343.78L95.96 337.39A65.3 65.3 0 0 0 114.32 333.64Z" fill="#fff" stroke="#777" stroke-width="0.45"/>
<path d="M114.21 334L114.89 335.92L114.27 336.13L114.24 336.03L113.62 336.24L114.84 339.91L114.19 340.13L113.13 336.86L112.5 337.06L112.71 337.73L112.07 337.93L112.8 340.32L112.14 340.52L111.31 337.68L110.67 337.86L110.51 337.28L109.88 337.46L110.32 339.09L109.67 339.26L109.22 337.53L108.59 337.7L109 339.34L108.35 339.5L108.35 339.5L107.69 339.65L107.83 340.25L107.17 340.4L107.18 340.41L106.51 340.55L106.19 339.02L105.55 339.15L105.71 339.97L105.05 340.09L105.06 340.13L104.4 340.25L104.33 339.89L103.68 340.01L103.77 340.54L103.1 340.65L102.92 339.46L102.26 339.56L102.5 341.15L101.83 341.25L102.05 342.84L101.37 342.93L100.95 339.73L100.3 339.82L100.43 340.92L99.77 341L99.77 341L99.1 341.07L99.13 341.38L98.46 341.44L98.33 339.97L97.67 340.03L97.74 340.93L97.08 340.98L97.08 341.06L96.41 341.1L96.2 337.68A65.6 65.6 0 0 0 114.21 334Z" fill="#f21f1f"/>
<path d="M120.18 349.92A82.6 82.6 0 0 1 96.95 354.66L96.55 347.67A75.6 75.6 0 0 0 117.81 343.33Z" fill="#fff" stroke="#777" stroke-width="0.45"/>
<path d="M118.17 346.78L118.11 348.41L117.49 348.46L117.12 349.25L116.08 347.92L115.73 348.8L115.04 348.56L114.13 347.55L113.36 346.97L113.2 348.56L112.16 346.94L112.34 349.94L111.19 347.82L110.35 346.8L109.79 346.91L110 350.4L109.12 349.14L108.28 348.01L107.55 347.29L106.98 347.36L106.89 349.93L106.41 350.59L105.9 351.12L105.36 351.51L104.35 348.91L103.99 350.37L103.33 349.92L102.99 351.73L102.47 352.33L101.93 352.87L100.95 349.63L100.63 352.05L100.12 353.01L99.56 353.46L98.68 350.13L98.05 349.57L97.44 349.04" fill="none" stroke="#f23838" stroke-width="1.25" stroke-linejoin="round" stroke-linecap="round" stroke-dasharray="0.01 1.05"/>
<path d="M106.68 323.81L107.55 326.89M99.13 325.35L99.54 328.52" stroke="#f47b3a" stroke-width="0.4"/>
<path d="M110.02 321.69A52.6 52.6 0 0 1 95.23 324.71L94.84 317.92A45.8 45.8 0 0 0 107.71 315.29Z" fill="#e8e4e1" stroke="#707070" stroke-width="0.55"/>
<text transform="translate(102.05 320.4) rotate(348.45)" font-family="'Liberation Sans', sans-serif" font-size="2.2" fill="#f7941d" text-anchor="middle" dy="0.8">Chr08</text>
<path d="M90.31 335.77A63.6 63.6 0 0 1 68.68 331.29L71.05 325.35A57.2 57.2 0 0 0 90.5 329.37Z" fill="#f7931e"/>
<path d="M90.31 335.77A63.6 63.6 0 0 1 88.91 335.72L89.25 329.32A57.2 57.2 0 0 0 90.5 329.37Z" fill="#ffd23c"/>
<path d="M89.08 335.72A63.6 63.6 0 0 1 87.68 335.64L88.14 329.26A57.2 57.2 0 0 0 89.39 329.33Z" fill="#f7931e"/>
<path d="M87.85 335.65A63.6 63.6 0 0 1 86.45 335.54L87.03 329.17A57.2 57.2 0 0 0 88.29 329.27Z" fill="#f7931e"/>
<path d="M86.62 335.55A63.6 63.6 0 0 1 85.23 335.42L85.93 329.06A57.2 57.2 0 0 0 87.18 329.18Z" fill="#f26522"/>
<path d="M85.39 335.43A63.6 63.6 0 0 1 84 335.27L84.83 328.92A57.2 57.2 0 0 0 86.08 329.07Z" fill="#f9a01f"/>
<path d="M84.17 335.29A63.6 63.6 0 0 1 82.78 335.1L83.73 328.77A57.2 57.2 0 0 0 84.98 328.94Z" fill="#f7931e"/>
<path d="M82.95 335.12A63.6 63.6 0 0 1 81.56 334.9L82.63 328.59A57.2 57.2 0 0 0 83.88 328.79Z" fill="#fbb03b"/>
<path d="M81.73 334.93A63.6 63.6 0 0 1 80.35 334.69L81.54 328.4A57.2 57.2 0 0 0 82.78 328.62Z" fill="#f36f21"/>
<path d="M80.51 334.72A63.6 63.6 0 0 1 79.14 334.44L80.45 328.18A57.2 57.2 0 0 0 81.69 328.43Z" fill="#ffd23c"/>
<path d="M79.3 334.48A63.6 63.6 0 0 1 77.94 334.18L79.37 327.94A57.2 57.2 0 0 0 80.6 328.21Z" fill="#f36f21"/>
<path d="M78.1 334.22A63.6 63.6 0 0 1 76.74 333.89L78.29 327.68A57.2 57.2 0 0 0 79.52 327.98Z" fill="#ffd23c"/>
<path d="M76.9 333.93A63.6 63.6 0 0 1 75.54 333.58L77.22 327.4A57.2 57.2 0 0 0 78.44 327.72Z" fill="#fbb03b"/>
<path d="M75.7 333.62A63.6 63.6 0 0 1 74.36 333.25L76.15 327.1A57.2 57.2 0 0 0 77.36 327.44Z" fill="#f68b1f"/>
<path d="M74.52 333.29A63.6 63.6 0 0 1 73.18 332.89L75.09 326.78A57.2 57.2 0 0 0 76.29 327.14Z" fill="#f36f21"/>
<path d="M73.33 332.94A63.6 63.6 0 0 1 72 332.51L74.03 326.44A57.2 57.2 0 0 0 75.23 326.83Z" fill="#f7931e"/>
<path d="M72.16 332.56A63.6 63.6 0 0 1 70.84 332.1L72.99 326.08A57.2 57.2 0 0 0 74.18 326.49Z" fill="#f7931e"/>
<path d="M70.99 332.16A63.6 63.6 0 0 1 69.68 331.68L71.94 325.69A57.2 57.2 0 0 0 73.13 326.13Z" fill="#f9a01f"/>
<path d="M69.83 331.74A63.6 63.6 0 0 1 68.68 331.29L71.05 325.35A57.2 57.2 0 0 0 72.09 325.75Z" fill="#f58220"/>
<path d="M90.07 343.87A71.7 71.7 0 0 1 65.69 338.82L68.06 332.87A65.3 65.3 0 0 0 90.26 337.47Z" fill="#fff" stroke="#777" stroke-width="0.45"/>
<path d="M90.03 337.76L89.96 339.77L89.32 339.75L89.25 341.28L88.59 341.25L88.61 340.93L87.96 340.89L87.98 340.57L87.33 340.53L87.35 340.19L86.71 340.14L86.75 339.6L86.11 339.55L86.1 339.64L85.46 339.58L85.29 341.25L84.64 341.19L84.7 340.65L84.05 340.58L84.07 340.4L83.42 340.32L83.52 339.51L82.89 339.42L82.64 341.2L81.98 341.1L82.24 339.35L81.61 339.25L81.39 340.62L80.74 340.51L80.66 341.02L80 340.91L80.36 338.9L79.73 338.78L79.73 338.76L79.1 338.64L78.74 340.44L78.1 340.31L78.31 339.25L77.68 339.11L77.7 339L77.07 338.86L77.04 338.99L76.41 338.84L76.54 338.26L75.92 338.11L75.66 339.14L75.03 338.98L75.32 337.86L74.69 337.69L74.36 338.94L73.72 338.77L74.13 337.32L73.51 337.14L73.2 338.22L72.57 338.04L72.62 337.88L72 337.69L72.08 337.41L71.46 337.22L71.21 338.02L70.58 337.82L70.91 336.82L70.3 336.61L70 337.51L69.38 337.29L69.48 337L68.86 336.78L68.67 337.32L68.05 337.09L68.16 336.79L67.55 336.56L67.26 337.33L66.64 337.09L68.16 333.24A65.6 65.6 0 0 0 90.03 337.76Z" fill="#f21f1f"/>
<path d="M89.75 354.76A82.6 82.6 0 0 1 61.66 348.95L64.25 342.44A75.6 75.6 0 0 0 89.96 347.77Z" fill="#fff" stroke="#777" stroke-width="0.45"/>
<path d="M89.01 351.67L88.46 350.7L87.92 349.92L87.16 352.68L86.71 350.56L85.95 352.8L85.28 353.51L84.96 350.34L84.27 351.38L83.85 349.72L83.35 348.98L82.81 348.71L82.16 349.21L81.57 349.29L81 349.15L80.53 348.37L79.46 351.4L79.16 349.62L78.23 351.52L77.85 350.27L77.69 347.96L76.56 350.66L76.16 349.66L75.83 348.4L74.64 351.04L74.51 348.93L74.35 347.09L73.68 347.4L72.59 349.35L72.63 346.85L72 346.96L70.74 349.35L70.12 349.34L69.67 348.76L69.06 348.71L68.23 349.37L67.81 348.72L67.3 348.34L66.45 348.99L66.12 348.11L65.71 347.47L65.7 345.74L65.39 344.9L65 344.28L64.05 345.15" fill="none" stroke="#f23838" stroke-width="1.25" stroke-linejoin="round" stroke-linecap="round" stroke-dasharray="0.01 1.05"/>
<path d="M87.5 325.59L87.22 328.78M81.33 324.69L80.68 327.82M75.31 323.07L74.3 326.11" stroke="#f47b3a" stroke-width="0.4"/>
<path d="M90.64 324.78A52.6 52.6 0 0 1 72.75 321.07L75.27 314.75A45.8 45.8 0 0 0 90.84 317.98Z" fill="#e8e4e1" stroke="#707070" stroke-width="0.55"/>
<text transform="translate(82.22 320.38) rotate(371.7)" font-family="'Liberation Sans', sans-serif" font-size="2.2" fill="#f7941d" text-anchor="middle" dy="0.8">Chr09</text>
<path d="M63.62 329.02A63.6 63.6 0 0 1 36.15 302.25L41.79 299.23A57.2 57.2 0 0 0 66.5 323.3Z" fill="#f7931e"/>
<path d="M63.62 329.02A63.6 63.6 0 0 1 62.36 328.36L65.36 322.71A57.2 57.2 0 0 0 66.5 323.3Z" fill="#f58220"/>
<path d="M62.51 328.44A63.6 63.6 0 0 1 61.25 327.76L64.37 322.17A57.2 57.2 0 0 0 65.49 322.78Z" fill="#f7931e"/>
<path d="M61.4 327.84A63.6 63.6 0 0 1 60.16 327.14L63.39 321.61A57.2 57.2 0 0 0 64.5 322.25Z" fill="#f7931e"/>
<path d="M60.31 327.23A63.6 63.6 0 0 1 59.08 326.5L62.42 321.03A57.2 57.2 0 0 0 63.52 321.69Z" fill="#f7931e"/>
<path d="M59.23 326.58A63.6 63.6 0 0 1 58.02 325.83L61.46 320.44A57.2 57.2 0 0 0 62.54 321.11Z" fill="#f7931e"/>
<path d="M58.16 325.92A63.6 63.6 0 0 1 56.96 325.15L60.51 319.82A57.2 57.2 0 0 0 61.58 320.52Z" fill="#f7931e"/>
<path d="M57.1 325.24A63.6 63.6 0 0 1 55.92 324.44L59.58 319.18A57.2 57.2 0 0 0 60.63 319.9Z" fill="#f7931e"/>
<path d="M56.06 324.54A63.6 63.6 0 0 1 54.9 323.71L58.65 318.53A57.2 57.2 0 0 0 59.7 319.27Z" fill="#f7931e"/>
<path d="M55.03 323.81A63.6 63.6 0 0 1 53.89 322.97L57.74 317.86A57.2 57.2 0 0 0 58.77 318.62Z" fill="#f58220"/>
<path d="M54.02 323.07A63.6 63.6 0 0 1 52.89 322.2L56.85 317.17A57.2 57.2 0 0 0 57.86 317.95Z" fill="#fbb03b"/>
<path d="M53.02 322.3A63.6 63.6 0 0 1 51.91 321.41L55.97 316.46A57.2 57.2 0 0 0 56.97 317.26Z" fill="#f7931e"/>
<path d="M52.04 321.52A63.6 63.6 0 0 1 50.95 320.61L55.1 315.74A57.2 57.2 0 0 0 56.08 316.56Z" fill="#f9a01f"/>
<path d="M51.08 320.71A63.6 63.6 0 0 1 50 319.78L54.25 314.99A57.2 57.2 0 0 0 55.21 315.83Z" fill="#ffd23c"/>
<path d="M50.12 319.89A63.6 63.6 0 0 1 49.07 318.94L53.41 314.24A57.2 57.2 0 0 0 54.36 315.09Z" fill="#f58220"/>
<path d="M49.19 319.05A63.6 63.6 0 0 1 48.15 318.08L52.59 313.46A57.2 57.2 0 0 0 53.52 314.34Z" fill="#f7931e"/>
<path d="M48.27 318.19A63.6 63.6 0 0 1 47.25 317.2L51.78 312.67A57.2 57.2 0 0 0 52.69 313.56Z" fill="#f9a01f"/>
<path d="M47.37 317.32A63.6 63.6 0 0 1 46.37 316.3L50.99 311.86A57.2 57.2 0 0 0 51.88 312.78Z" fill="#f26522"/>
<path d="M46.49 316.42A63.6 63.6 0 0 1 45.51 315.39L50.21 311.04A57.2 57.2 0 0 0 51.09 311.97Z" fill="#f58220"/>
<path d="M45.62 315.51A63.6 63.6 0 0 1 44.67 314.46L49.45 310.2A57.2 57.2 0 0 0 50.31 311.15Z" fill="#f7931e"/>
<path d="M44.78 314.58A63.6 63.6 0 0 1 43.84 313.51L48.71 309.35A57.2 57.2 0 0 0 49.55 310.32Z" fill="#fbb03b"/>
<path d="M43.95 313.64A63.6 63.6 0 0 1 43.03 312.55L47.98 308.49A57.2 57.2 0 0 0 48.81 309.47Z" fill="#f7931e"/>
<path d="M43.14 312.67A63.6 63.6 0 0 1 42.25 311.57L47.27 307.6A57.2 57.2 0 0 0 48.08 308.6Z" fill="#f26522"/>
<path d="M42.35 311.7A63.6 63.6 0 0 1 41.48 310.57L46.58 306.71A57.2 57.2 0 0 0 47.37 307.72Z" fill="#f7931e"/>
<path d="M41.58 310.7A63.6 63.6 0 0 1 40.73 309.56L45.91 305.8A57.2 57.2 0 0 0 46.67 306.83Z" fill="#fcc24a"/>
<path d="M40.83 309.7A63.6 63.6 0 0 1 40 308.54L45.26 304.88A57.2 57.2 0 0 0 46 305.92Z" fill="#f9a01f"/>
<path d="M40.1 308.67A63.6 63.6 0 0 1 39.29 307.5L44.62 303.95A57.2 57.2 0 0 0 45.34 305Z" fill="#f68b1f"/>
<path d="M39.39 307.64A63.6 63.6 0 0 1 38.61 306.45L44 303A57.2 57.2 0 0 0 44.7 304.07Z" fill="#f7931e"/>
<path d="M38.7 306.59A63.6 63.6 0 0 1 37.94 305.38L43.4 302.04A57.2 57.2 0 0 0 44.08 303.13Z" fill="#f7931e"/>
<path d="M38.03 305.52A63.6 63.6 0 0 1 37.3 304.3L42.82 301.07A57.2 57.2 0 0 0 43.48 302.17Z" fill="#f7931e"/>
<path d="M37.38 304.45A63.6 63.6 0 0 1 36.67 303.21L42.26 300.09A57.2 57.2 0 0 0 42.9 301.2Z" fill="#f7931e"/>
<path d="M36.75 303.36A63.6 63.6 0 0 1 36.15 302.25L41.79 299.23A57.2 57.2 0 0 0 42.33 300.22Z" fill="#f7931e"/>
<path d="M59.98 336.25A71.7 71.7 0 0 1 29.01 306.08L34.65 303.06A65.3 65.3 0 0 0 62.86 330.54Z" fill="#fff" stroke="#777" stroke-width="0.45"/>
<path d="M62.52 330.7L61.29 333.12L60.71 332.82L60.85 332.56L60.27 332.25L59.49 333.71L58.9 333.39L59.7 331.93L59.12 331.62L58.93 331.97L58.36 331.64L58.66 331.12L58.09 330.79L57.3 332.14L56.73 331.81L57.13 331.13L56.57 330.79L56.86 330.32L56.3 329.97L56.14 330.22L55.59 329.87L55.01 330.78L54.45 330.42L54.89 329.74L54.34 329.38L53.24 331.03L52.68 330.66L53.32 329.71L52.77 329.33L52.75 329.36L52.2 328.98L52.83 328.09L52.29 327.71L51.18 329.26L50.63 328.87L52.27 326.63L51.75 326.24L51.36 326.76L50.84 326.36L50.81 326.4L50.29 326L50.12 326.23L49.6 325.82L49.27 326.24L48.75 325.82L48.36 326.3L47.84 325.88L49.12 324.33L48.62 323.92L47.36 325.41L46.85 324.98L48 323.64L47.51 323.21L45.57 325.42L45.06 324.97L47.22 322.56L46.73 322.13L45.74 323.22L45.25 322.77L44.89 323.16L44.4 322.7L45.43 321.61L44.96 321.16L43.53 322.65L43.05 322.17L43.41 321.81L42.93 321.33L44.13 320.14L43.67 319.67L42.95 320.38L42.49 319.91L42.39 320L41.93 319.52L41.73 319.71L41.28 319.22L42.28 318.3L41.84 317.82L41.27 318.33L40.83 317.84L40.98 317.7L40.55 317.21L40.35 317.38L39.92 316.88L39.11 317.57L38.67 317.06L38.22 317.44L37.79 316.92L37.83 316.88L37.4 316.36L38.76 315.26L38.35 314.75L38.26 314.82L37.86 314.3L38.83 313.55L38.43 313.03L37.59 313.67L37.19 313.15L36.83 313.42L36.43 312.88L36.97 312.49L36.59 311.96L34.12 313.72L33.72 313.16L35.71 311.77L35.34 311.22L36.49 310.43L36.12 309.89L34.88 310.73L34.51 310.18L35.19 309.73L34.83 309.18L34.48 309.41L34.12 308.85L31.85 310.29L31.49 309.71L33.37 308.54L33.02 307.97L33.77 307.52L33.43 306.96L33.38 306.99L33.05 306.43L32.73 306.61L32.4 306.04L33.03 305.68L32.71 305.11L32.28 305.34L31.97 304.77L34.5 303.4A65.6 65.6 0 0 0 62.52 330.7Z" fill="#f21f1f"/>
<path d="M55.09 345.99A82.6 82.6 0 0 1 19.4 311.23L25.57 307.92A75.6 75.6 0 0 0 58.23 339.74Z" fill="#fff" stroke="#777" stroke-width="0.45"/>
<path d="M55.29 343.71L55.6 341.81L54.27 343.02L54.35 341.62L53.8 341.36L53.75 340.23L52.89 340.54L51.27 342.12L51.1 341.21L50.38 341.21L50.82 339.34L50.63 338.51L50.27 337.98L49.16 338.61L48.36 338.73L47.41 339.05L48.53 336.32L46.91 337.63L45.68 338.34L45.78 337.14L46.7 334.84L46.03 334.77L46.23 333.51L45.51 333.5L43.09 335.67L42.82 335.02L42.29 334.73L41.45 334.8L40.54 334.94L40.74 333.74L40.46 333.12L40.03 332.69L39.39 332.51L39.16 331.85L38.54 331.64L39.37 329.83L38.02 330.41L37.9 329.65L36.68 330.06L37.95 327.89L37.8 327.2L37.9 326.27L35.44 327.88L33.97 328.45L34.02 327.56L34.62 326.16L33.12 326.73L32.49 326.48L32.72 325.46L33.47 323.99L33.28 323.36L32.58 323.19L32.43 322.53L31.76 322.32L30.6 322.49L29.03 322.98L31.19 320.49L29.89 320.76L31 319.15L30.82 318.55L28.2 319.77L27.95 319.21L26.46 319.54L27.37 318.13L28.9 316.33L27.84 316.35L26.58 316.49L24.75 316.98L23.88 316.82L25.08 315.31L25.46 314.35L26.47 313.02L24.61 313.47L25.39 312.3L25.64 311.47L25.93 310.62L25.64 310.12L23.25 310.79L24.3 309.53" fill="none" stroke="#f23838" stroke-width="1.25" stroke-linejoin="round" stroke-linecap="round" stroke-dasharray="0.01 1.05"/>
<path d="M65.23 318.52L63.62 321.29M59.77 314.88L57.84 317.42M54.8 310.59L52.57 312.89M50.39 305.73L47.89 307.74M46.6 300.37L43.88 302.06" stroke="#f47b3a" stroke-width="0.4"/>
<path d="M68.57 319.19A52.6 52.6 0 0 1 45.84 297.06L51.84 293.84A45.8 45.8 0 0 0 71.62 313.12Z" fill="#e8e4e1" stroke="#707070" stroke-width="0.55"/>
<text transform="translate(57.87 307.44) rotate(404.25)" font-family="'Liberation Sans', sans-serif" font-size="2.2" fill="#f7941d" text-anchor="middle" dy="0.8">Chr10</text>
<path d="M33.74 297.25A63.6 63.6 0 0 1 28.75 276.53L35.13 276.09A57.2 57.2 0 0 0 39.63 294.73Z" fill="#f7931e"/>
<path d="M33.74 297.25A63.6 63.6 0 0 1 33.2 295.94L39.13 293.55A57.2 57.2 0 0 0 39.63 294.73Z" fill="#f9a01f"/>
<path d="M33.26 296.09A63.6 63.6 0 0 1 32.74 294.76L38.72 292.49A57.2 57.2 0 0 0 39.19 293.69Z" fill="#f9a01f"/>
<path d="M32.8 294.92A63.6 63.6 0 0 1 32.3 293.58L38.33 291.43A57.2 57.2 0 0 0 38.77 292.63Z" fill="#f7931e"/>
<path d="M32.36 293.74A63.6 63.6 0 0 1 31.89 292.39L37.96 290.36A57.2 57.2 0 0 0 38.38 291.57Z" fill="#f68b1f"/>
<path d="M31.94 292.55A63.6 63.6 0 0 1 31.5 291.19L37.61 289.28A57.2 57.2 0 0 0 38.01 290.5Z" fill="#f58220"/>
<path d="M31.55 291.35A63.6 63.6 0 0 1 31.14 289.98L37.28 288.19A57.2 57.2 0 0 0 37.65 289.42Z" fill="#f7931e"/>
<path d="M31.18 290.14A63.6 63.6 0 0 1 30.8 288.77L36.98 287.1A57.2 57.2 0 0 0 37.32 288.34Z" fill="#f58220"/>
<path d="M30.84 288.93A63.6 63.6 0 0 1 30.48 287.55L36.69 286.01A57.2 57.2 0 0 0 37.01 287.25Z" fill="#f58220"/>
<path d="M30.52 287.71A63.6 63.6 0 0 1 30.19 286.33L36.43 284.9A57.2 57.2 0 0 0 36.73 286.15Z" fill="#f9a01f"/>
<path d="M30.23 286.49A63.6 63.6 0 0 1 29.92 285.09L36.19 283.8A57.2 57.2 0 0 0 36.46 285.05Z" fill="#fcc24a"/>
<path d="M29.95 285.26A63.6 63.6 0 0 1 29.68 283.86L35.97 282.68A57.2 57.2 0 0 0 36.22 283.94Z" fill="#f26522"/>
<path d="M29.71 284.02A63.6 63.6 0 0 1 29.46 282.62L35.77 281.57A57.2 57.2 0 0 0 36 282.83Z" fill="#f36f21"/>
<path d="M29.49 282.78A63.6 63.6 0 0 1 29.26 281.37L35.6 280.45A57.2 57.2 0 0 0 35.8 281.72Z" fill="#f7931e"/>
<path d="M29.29 281.54A63.6 63.6 0 0 1 29.1 280.12L35.45 279.33A57.2 57.2 0 0 0 35.62 280.6Z" fill="#f7931e"/>
<path d="M29.12 280.29A63.6 63.6 0 0 1 28.95 278.87L35.32 278.2A57.2 57.2 0 0 0 35.46 279.47Z" fill="#f7931e"/>
<path d="M28.97 279.04A63.6 63.6 0 0 1 28.83 277.62L35.21 277.07A57.2 57.2 0 0 0 35.33 278.35Z" fill="#f68b1f"/>
<path d="M28.85 277.78A63.6 63.6 0 0 1 28.75 276.53L35.13 276.09A57.2 57.2 0 0 0 35.22 277.22Z" fill="#f36f21"/>
<path d="M26.3 300.45A71.7 71.7 0 0 1 20.67 277.08L27.05 276.64A65.3 65.3 0 0 0 32.18 297.92Z" fill="#fff" stroke="#777" stroke-width="0.45"/>
<path d="M31.81 297.83L29.4 298.86L29.16 298.26L27.78 298.83L27.54 298.22L28.28 297.92L28.04 297.32L27.31 297.6L27.08 296.99L26.42 297.24L26.19 296.62L25.23 296.97L25 296.34L25 296.34L24.78 295.7L26.72 295.03L26.51 294.41L26.56 294.39L26.35 293.77L27.46 293.41L27.26 292.8L27.13 292.84L26.94 292.23L26.3 292.42L26.12 291.8L25.72 291.92L25.54 291.29L25.39 291.33L25.21 290.7L25.37 290.66L25.2 290.03L25.12 290.05L24.95 289.42L24.63 289.5L24.47 288.86L25.79 288.54L25.64 287.91L24.78 288.11L24.63 287.48L25.35 287.31L25.21 286.68L25.5 286.62L25.37 285.99L25.74 285.92L25.61 285.29L24.24 285.56L24.12 284.92L23.43 285.05L23.31 284.4L23.72 284.32L23.61 283.68L25.29 283.4L25.19 282.77L23.71 283L23.61 282.35L23.66 282.35L23.57 281.7L24.12 281.62L24.03 280.98L24.15 280.97L24.07 280.32L23.38 280.41L23.3 279.76L22.86 279.81L22.79 279.15L24.9 278.94L24.84 278.31L23.35 278.44L23.3 277.79L21.78 277.92L21.73 277.25L26.77 276.89A65.6 65.6 0 0 0 31.81 297.83Z" fill="#f21f1f"/>
<path d="M16.28 304.74A82.6 82.6 0 0 1 9.79 277.82L16.78 277.34A75.6 75.6 0 0 0 22.71 301.98Z" fill="#fff" stroke="#777" stroke-width="0.45"/>
<path d="M19.62 302.41L18.92 302.06L18.58 301.55L19.03 300.74L20.17 299.67L19.05 299.47L18.08 299.2L18.69 298.35L16.46 298.5L17.69 297.45L17.19 296.99L18.13 296.07L18.25 295.42L18.65 294.68L15.78 294.93L16.88 293.99L15.94 293.64L16.43 292.89L14.77 292.72L13.84 292.34L15.95 291.18L13.73 291.11L14.72 290.26L13.4 289.94L14.94 288.99L14.94 288.38L16.43 287.47L15.84 286.99L16.76 286.23L15.93 285.79L14.26 285.48L15.82 284.63L15.77 284.05L12.92 283.88L13.28 283.22L13.24 282.62L14.74 281.83L12.17 281.54L14.05 280.72L15.33 280L14.22 279.52L13.23 279.01L12.84 278.45" fill="none" stroke="#f23838" stroke-width="1.25" stroke-linejoin="round" stroke-linecap="round" stroke-dasharray="0.01 1.05"/>
<path d="M41.83 290.52L38.82 291.61M40.09 284.76L36.98 285.51M39.01 278.84L35.84 279.24" stroke="#f47b3a" stroke-width="0.4"/>
<path d="M43.85 292.92A52.6 52.6 0 0 1 39.72 275.78L46.51 275.32A45.8 45.8 0 0 0 50.1 290.24Z" fill="#e8e4e1" stroke="#707070" stroke-width="0.55"/>
<text transform="translate(44.37 283.73) rotate(436.45)" font-family="'Liberation Sans', sans-serif" font-size="2.2" fill="#f7941d" text-anchor="middle" dy="0.8">Chr11</text>
<path d="M28.61 270.98A63.6 63.6 0 0 1 37.86 239.16L43.32 242.48A57.2 57.2 0 0 0 35.01 271.1Z" fill="#f7931e"/>
<path d="M28.61 270.98A63.6 63.6 0 0 1 28.65 269.57L35.05 269.84A57.2 57.2 0 0 0 35.01 271.1Z" fill="#f7931e"/>
<path d="M28.65 269.74A63.6 63.6 0 0 1 28.72 268.33L35.11 268.72A57.2 57.2 0 0 0 35.04 269.99Z" fill="#f58220"/>
<path d="M28.71 268.5A63.6 63.6 0 0 1 28.81 267.09L35.18 267.61A57.2 57.2 0 0 0 35.1 268.87Z" fill="#f7931e"/>
<path d="M28.79 267.26A63.6 63.6 0 0 1 28.92 265.86L35.29 266.49A57.2 57.2 0 0 0 35.17 267.76Z" fill="#fcc24a"/>
<path d="M28.9 266.02A63.6 63.6 0 0 1 29.05 264.62L35.41 265.39A57.2 57.2 0 0 0 35.27 266.64Z" fill="#f58220"/>
<path d="M29.03 264.79A63.6 63.6 0 0 1 29.21 263.39L35.55 264.28A57.2 57.2 0 0 0 35.39 265.53Z" fill="#f9a01f"/>
<path d="M29.19 263.56A63.6 63.6 0 0 1 29.4 262.16L35.72 263.17A57.2 57.2 0 0 0 35.53 264.43Z" fill="#f7931e"/>
<path d="M29.37 262.33A63.6 63.6 0 0 1 29.6 260.94L35.9 262.07A57.2 57.2 0 0 0 35.69 263.32Z" fill="#f9a01f"/>
<path d="M29.58 261.1A63.6 63.6 0 0 1 29.84 259.72L36.11 260.98A57.2 57.2 0 0 0 35.88 262.22Z" fill="#f9a01f"/>
<path d="M29.8 259.88A63.6 63.6 0 0 1 30.09 258.5L36.34 259.88A57.2 57.2 0 0 0 36.08 261.12Z" fill="#f68b1f"/>
<path d="M30.06 258.67A63.6 63.6 0 0 1 30.37 257.29L36.59 258.79A57.2 57.2 0 0 0 36.31 260.03Z" fill="#f9a01f"/>
<path d="M30.33 257.46A63.6 63.6 0 0 1 30.67 256.09L36.87 257.71A57.2 57.2 0 0 0 36.56 258.94Z" fill="#f7931e"/>
<path d="M30.63 256.25A63.6 63.6 0 0 1 31 254.89L37.16 256.63A57.2 57.2 0 0 0 36.83 257.86Z" fill="#f58220"/>
<path d="M30.96 255.05A63.6 63.6 0 0 1 31.35 253.7L37.47 255.56A57.2 57.2 0 0 0 37.12 256.78Z" fill="#f58220"/>
<path d="M31.3 253.86A63.6 63.6 0 0 1 31.72 252.52L37.81 254.5A57.2 57.2 0 0 0 37.43 255.71Z" fill="#f7931e"/>
<path d="M31.67 252.68A63.6 63.6 0 0 1 32.12 251.34L38.16 253.44A57.2 57.2 0 0 0 37.76 254.64Z" fill="#f7931e"/>
<path d="M32.06 251.5A63.6 63.6 0 0 1 32.54 250.17L38.54 252.39A57.2 57.2 0 0 0 38.12 253.58Z" fill="#f36f21"/>
<path d="M32.48 250.33A63.6 63.6 0 0 1 32.98 249.01L38.94 251.34A57.2 57.2 0 0 0 38.49 252.53Z" fill="#f7931e"/>
<path d="M32.92 249.17A63.6 63.6 0 0 1 33.44 247.86L39.35 250.31A57.2 57.2 0 0 0 38.88 251.48Z" fill="#f7931e"/>
<path d="M33.38 248.01A63.6 63.6 0 0 1 33.93 246.72L39.79 249.28A57.2 57.2 0 0 0 39.3 250.45Z" fill="#f7931e"/>
<path d="M33.86 246.87A63.6 63.6 0 0 1 34.44 245.58L40.25 248.26A57.2 57.2 0 0 0 39.73 249.42Z" fill="#fcc24a"/>
<path d="M34.37 245.74A63.6 63.6 0 0 1 34.97 244.46L40.73 247.25A57.2 57.2 0 0 0 40.19 248.4Z" fill="#f7931e"/>
<path d="M34.9 244.61A63.6 63.6 0 0 1 35.52 243.35L41.22 246.25A57.2 57.2 0 0 0 40.66 247.39Z" fill="#f26522"/>
<path d="M35.44 243.5A63.6 63.6 0 0 1 36.09 242.25L41.74 245.26A57.2 57.2 0 0 0 41.16 246.39Z" fill="#f58220"/>
<path d="M36.02 242.4A63.6 63.6 0 0 1 36.69 241.16L42.28 244.28A57.2 57.2 0 0 0 41.67 245.4Z" fill="#f7931e"/>
<path d="M36.61 241.3A63.6 63.6 0 0 1 37.31 240.08L42.83 243.31A57.2 57.2 0 0 0 42.2 244.41Z" fill="#f7931e"/>
<path d="M37.22 240.23A63.6 63.6 0 0 1 37.86 239.16L43.32 242.48A57.2 57.2 0 0 0 42.75 243.44Z" fill="#f68b1f"/>
<path d="M20.51 270.82A71.7 71.7 0 0 1 30.94 234.95L36.4 238.28A65.3 65.3 0 0 0 26.91 270.95Z" fill="#fff" stroke="#777" stroke-width="0.45"/>
<path d="M26.62 270.71L23.36 270.64L23.38 269.97L24.49 270.01L24.52 269.36L22.37 269.27L22.4 268.6L21.89 268.57L21.92 267.89L22.48 267.93L22.53 267.26L21.52 267.18L21.57 266.5L21.48 266.5L21.54 265.82L24.89 266.12L24.95 265.47L24.53 265.43L24.6 264.78L23.12 264.61L23.2 263.95L24.86 264.15L24.94 263.5L25.04 263.51L25.12 262.87L23.43 262.63L23.52 261.97L24.41 262.1L24.51 261.45L23.67 261.31L23.77 260.65L22.44 260.43L22.56 259.76L23.48 259.92L23.6 259.26L24.26 259.38L24.38 258.73L25.67 258.99L25.8 258.35L25.52 258.29L25.66 257.65L25.91 257.7L26.05 257.06L24.52 256.71L24.67 256.06L26.17 256.42L26.33 255.79L25.99 255.7L26.16 255.06L26.61 255.18L26.78 254.55L26.9 254.59L27.08 253.96L25.72 253.58L25.9 252.94L26.33 253.06L26.51 252.43L27 252.57L27.19 251.95L26.96 251.87L27.15 251.25L25.77 250.8L25.98 250.16L27.94 250.81L28.15 250.2L24.71 249.02L24.94 248.37L27 249.1L27.23 248.47L25.13 247.71L25.37 247.06L27.28 247.78L27.52 247.16L27.27 247.06L27.52 246.44L27.71 246.51L27.96 245.89L29.34 246.46L29.59 245.85L28.05 245.2L28.31 244.59L27.38 244.19L27.65 243.56L30.12 244.66L30.39 244.06L27.64 242.81L27.93 242.19L29.24 242.8L29.53 242.2L30.05 242.45L30.34 241.85L31.03 242.19L31.33 241.6L30.63 241.25L30.93 240.66L30.52 240.45L30.83 239.86L30.48 239.67L30.8 239.08L31.31 239.36L31.63 238.77L30.07 237.91L30.41 237.32L31.8 238.1L32.13 237.52L32.06 237.49L32.4 236.91L31.54 236.4L31.89 235.82L36.03 238.32A65.6 65.6 0 0 0 26.62 270.71Z" fill="#f21f1f"/>
<path d="M9.62 270.61A82.6 82.6 0 0 1 21.62 229.29L27.6 232.92A75.6 75.6 0 0 0 16.61 270.75Z" fill="#fff" stroke="#777" stroke-width="0.45"/>
<path d="M11.41 269.8L12.74 269.24L11.49 268.58L13.68 268.09L14.7 267.55L12.33 266.81L13.59 266.29L14.86 265.8L14.41 265.17L13.38 264.48L15.58 264.11L14.13 263.36L14.06 262.75L13.8 262.12L15.42 261.74L13.49 260.87L12.56 260.12L12.14 259.44L14.34 259.18L13.46 258.42L14.63 258.02L13.53 257.21L16.13 257.11L13.65 256L12.67 255.17L14.35 254.91L14.87 254.41L15.05 253.84L15.18 253.25L17.42 253.21L14.35 251.8L16.56 251.76L17.5 251.41L18.21 251.01L17.94 250.32L15.71 249.03L18.32 249.21L18.96 248.8L16.87 247.51L18.39 247.39L19.68 247.21L17.9 245.97L17.6 245.22L17.86 244.68L17.39 243.86L19.75 244.13L17.61 242.65L17.72 242.04L20.53 242.55L21.22 242.2L20.16 241.11L19.99 240.39L20.95 240.17L22.01 240.01L21.42 239.09L22.45 238.92L21.21 237.67L20.02 236.41L22.53 237L21.88 236L21.23 234.99L23.4 235.46L21.8 233.92L21.12 232.85L23.13 233.28L23.83 232.99L22.72 231.65L23.75 231.56" fill="none" stroke="#f23838" stroke-width="1.25" stroke-linejoin="round" stroke-linecap="round" stroke-dasharray="0.01 1.05"/>
<path d="M38.74 268.35L35.55 268.12M39.44 262.75L36.29 262.18M40.73 257.25L37.66 256.35M42.59 251.91L39.63 250.7M45 246.81L42.18 245.29" stroke="#f47b3a" stroke-width="0.4"/>
<path d="M39.61 271.19A52.6 52.6 0 0 1 47.26 244.87L53.07 248.41A45.8 45.8 0 0 0 46.41 271.32Z" fill="#e8e4e1" stroke="#707070" stroke-width="0.55"/>
<text transform="translate(44.95 258.47) rotate(286.2)" font-family="'Liberation Sans', sans-serif" font-size="2.2" fill="#f7941d" text-anchor="middle" dy="0.8">Chr12</text>
<path d="M40.94 234.55A63.6 63.6 0 0 1 57.19 219.1L60.71 224.45A57.2 57.2 0 0 0 46.1 238.34Z" fill="#f7931e"/>
<path d="M40.94 234.55A63.6 63.6 0 0 1 41.8 233.41L46.87 237.32A57.2 57.2 0 0 0 46.1 238.34Z" fill="#f7931e"/>
<path d="M41.69 233.55A63.6 63.6 0 0 1 42.57 232.43L47.56 236.43A57.2 57.2 0 0 0 46.78 237.44Z" fill="#fbb03b"/>
<path d="M42.46 232.56A63.6 63.6 0 0 1 43.36 231.46L48.28 235.56A57.2 57.2 0 0 0 47.47 236.55Z" fill="#fbb03b"/>
<path d="M43.25 231.59A63.6 63.6 0 0 1 44.17 230.51L49.01 234.7A57.2 57.2 0 0 0 48.18 235.68Z" fill="#f68b1f"/>
<path d="M44.06 230.63A63.6 63.6 0 0 1 45 229.57L49.75 233.86A57.2 57.2 0 0 0 48.91 234.82Z" fill="#fbb03b"/>
<path d="M44.89 229.69A63.6 63.6 0 0 1 45.85 228.65L50.51 233.03A57.2 57.2 0 0 0 49.65 233.97Z" fill="#fcc24a"/>
<path d="M45.74 228.77A63.6 63.6 0 0 1 46.72 227.75L51.29 232.22A57.2 57.2 0 0 0 50.41 233.14Z" fill="#fcc24a"/>
<path d="M46.6 227.86A63.6 63.6 0 0 1 47.6 226.86L52.09 231.42A57.2 57.2 0 0 0 51.19 232.33Z" fill="#f7931e"/>
<path d="M47.48 226.98A63.6 63.6 0 0 1 48.5 225.99L52.9 230.64A57.2 57.2 0 0 0 51.98 231.53Z" fill="#f7931e"/>
<path d="M48.38 226.1A63.6 63.6 0 0 1 49.42 225.14L53.72 229.87A57.2 57.2 0 0 0 52.79 230.74Z" fill="#f7931e"/>
<path d="M49.3 225.25A63.6 63.6 0 0 1 50.35 224.31L54.56 229.13A57.2 57.2 0 0 0 53.61 229.98Z" fill="#fbb03b"/>
<path d="M50.23 224.42A63.6 63.6 0 0 1 51.3 223.49L55.42 228.39A57.2 57.2 0 0 0 54.45 229.22Z" fill="#f58220"/>
<path d="M51.18 223.6A63.6 63.6 0 0 1 52.27 222.7L56.29 227.68A57.2 57.2 0 0 0 55.31 228.49Z" fill="#f7931e"/>
<path d="M52.14 222.8A63.6 63.6 0 0 1 53.25 221.92L57.17 226.98A57.2 57.2 0 0 0 56.17 227.77Z" fill="#f7931e"/>
<path d="M53.12 222.02A63.6 63.6 0 0 1 54.25 221.16L58.07 226.3A57.2 57.2 0 0 0 57.05 227.07Z" fill="#ffd23c"/>
<path d="M54.12 221.26A63.6 63.6 0 0 1 55.26 220.43L58.98 225.64A57.2 57.2 0 0 0 57.95 226.39Z" fill="#f7931e"/>
<path d="M55.13 220.52A63.6 63.6 0 0 1 56.29 219.71L59.9 224.99A57.2 57.2 0 0 0 58.86 225.72Z" fill="#f26522"/>
<path d="M56.15 219.8A63.6 63.6 0 0 1 57.19 219.1L60.71 224.45A57.2 57.2 0 0 0 59.78 225.08Z" fill="#f7931e"/>
<path d="M34.41 229.75A71.7 71.7 0 0 1 52.73 212.34L56.25 217.68A65.3 65.3 0 0 0 39.57 233.54Z" fill="#fff" stroke="#777" stroke-width="0.45"/>
<path d="M39.47 233.18L37.88 232L38.27 231.48L37.84 231.16L38.24 230.64L38.23 230.63L38.63 230.11L37.45 229.18L37.87 228.66L39.08 229.63L39.49 229.11L39.17 228.85L39.59 228.34L39.85 228.55L40.27 228.05L38.27 226.35L38.71 225.83L40.16 227.09L40.6 226.59L40.74 226.71L41.18 226.22L41.26 226.29L41.71 225.8L40.92 225.08L41.38 224.59L42.72 225.84L43.17 225.37L42.71 224.93L43.17 224.46L42.15 223.46L42.62 222.98L43.41 223.76L43.87 223.29L43.77 223.19L44.25 222.72L44.18 222.65L44.66 222.19L44.57 222.09L45.05 221.64L45.31 221.91L45.8 221.46L45.92 221.59L46.41 221.15L46.76 221.54L47.25 221.1L46.84 220.63L47.34 220.2L46.05 218.71L46.57 218.27L48.08 220.05L48.58 219.63L48.75 219.83L49.26 219.41L48.89 218.96L49.41 218.55L48.69 217.65L49.22 217.24L48.42 216.21L48.96 215.79L51.04 218.5L51.56 218.11L49.97 215.98L50.51 215.58L51.65 217.13L52.18 216.74L50.66 214.63L51.22 214.23L52.94 216.66L53.47 216.28L51.78 213.83L52.34 213.45L53.87 215.7L54.42 215.33L55.9 217.56A65.6 65.6 0 0 0 39.47 233.18Z" fill="#f21f1f"/>
<path d="M25.63 223.3A82.6 82.6 0 0 1 46.73 203.24L50.58 209.09A75.6 75.6 0 0 0 31.27 227.44Z" fill="#fff" stroke="#777" stroke-width="0.45"/>
<path d="M28.36 224.26L28.73 223.81L28.32 222.74L28.56 222.17L29.89 222.46L29.82 221.65L30.05 221.07L30.34 220.53L31.6 220.82L31.26 219.75L31.68 219.32L31.43 218.31L34.1 219.9L32.86 217.98L35.45 219.57L34.16 217.57L34.61 217.19L35.3 217.03L34.4 215.32L35.6 215.67L36.7 215.94L36.25 214.64L36.16 213.69L37.21 213.92L38.48 214.41L38.95 214.06L39.38 213.67L39.07 212.44L40.48 213.16L40.94 212.8L40.94 211.9L41.72 211.92L42.43 211.87L41.73 210.08L41.68 209.07L42.91 209.67L43.75 209.78L44.98 210.43L45.37 209.99L46.2 210.15L45.71 208.5L45.89 207.74L47.47 208.97L46.28 206.24L47.69 207.25L47.22 205.52" fill="none" stroke="#f23838" stroke-width="1.25" stroke-linejoin="round" stroke-linecap="round" stroke-dasharray="0.01 1.05"/>
<path d="M50.95 237.97L48.49 235.93M55.27 233.35L53.07 231.03M60.1 229.27L58.19 226.71" stroke="#f47b3a" stroke-width="0.4"/>
<path d="M49.81 241.06A52.6 52.6 0 0 1 63.24 228.29L66.99 233.96A45.8 45.8 0 0 0 55.29 245.09Z" fill="#e8e4e1" stroke="#707070" stroke-width="0.55"/>
<text transform="translate(58.3 236.54) rotate(316.45)" font-family="'Liberation Sans', sans-serif" font-size="2.2" fill="#f7941d" text-anchor="middle" dy="0.8">Chr13</text>
<path d="M61.95 216.25A63.6 63.6 0 0 1 77.35 210.36L78.85 216.58A57.2 57.2 0 0 0 64.99 221.88Z" fill="#f7931e"/>
<path d="M61.95 216.25A63.6 63.6 0 0 1 63.22 215.58L66.14 221.28A57.2 57.2 0 0 0 64.99 221.88Z" fill="#fbb03b"/>
<path d="M63.08 215.66A63.6 63.6 0 0 1 64.36 215.02L67.16 220.77A57.2 57.2 0 0 0 66.01 221.35Z" fill="#f7931e"/>
<path d="M64.21 215.09A63.6 63.6 0 0 1 65.51 214.47L68.2 220.28A57.2 57.2 0 0 0 67.03 220.84Z" fill="#f7931e"/>
<path d="M65.36 214.54A63.6 63.6 0 0 1 66.67 213.95L69.24 219.81A57.2 57.2 0 0 0 68.06 220.34Z" fill="#ffd23c"/>
<path d="M66.52 214.02A63.6 63.6 0 0 1 67.84 213.45L70.29 219.36A57.2 57.2 0 0 0 69.1 219.87Z" fill="#f26522"/>
<path d="M67.69 213.51A63.6 63.6 0 0 1 69.02 212.97L71.35 218.93A57.2 57.2 0 0 0 70.15 219.42Z" fill="#fcc24a"/>
<path d="M68.87 213.03A63.6 63.6 0 0 1 70.21 212.52L72.42 218.53A57.2 57.2 0 0 0 71.21 218.99Z" fill="#fcc24a"/>
<path d="M70.05 212.58A63.6 63.6 0 0 1 71.41 212.09L73.5 218.14A57.2 57.2 0 0 0 72.28 218.58Z" fill="#f7931e"/>
<path d="M71.25 212.15A63.6 63.6 0 0 1 72.62 211.69L74.59 217.78A57.2 57.2 0 0 0 73.36 218.19Z" fill="#fcc24a"/>
<path d="M72.46 211.74A63.6 63.6 0 0 1 73.83 211.31L75.68 217.44A57.2 57.2 0 0 0 74.44 217.83Z" fill="#f7931e"/>
<path d="M73.67 211.36A63.6 63.6 0 0 1 75.05 210.96L76.78 217.12A57.2 57.2 0 0 0 75.54 217.48Z" fill="#fbb03b"/>
<path d="M74.89 211A63.6 63.6 0 0 1 76.28 210.62L77.88 216.82A57.2 57.2 0 0 0 76.63 217.16Z" fill="#ffd23c"/>
<path d="M76.12 210.67A63.6 63.6 0 0 1 77.35 210.36L78.85 216.58A57.2 57.2 0 0 0 77.74 216.86Z" fill="#f26522"/>
<path d="M58.1 209.13A71.7 71.7 0 0 1 75.46 202.48L76.96 208.7A65.3 65.3 0 0 0 61.14 214.76Z" fill="#fff" stroke="#777" stroke-width="0.45"/>
<path d="M61.2 214.39L59.27 210.79L59.85 210.48L59.47 209.75L60.05 209.45L61.03 211.36L61.6 211.07L61.41 210.68L61.99 210.4L61.67 209.74L62.25 209.46L62.64 210.27L63.22 210L63.09 209.71L63.68 209.44L63.95 210.03L64.53 209.77L63.36 207.13L63.97 206.86L65.14 209.56L65.73 209.31L65.27 208.24L65.87 207.99L66.5 209.51L67.09 209.27L66.59 208.03L67.2 207.8L66.95 207.15L67.56 206.92L67.38 206.46L68 206.23L68.72 208.2L69.33 207.99L68.56 205.82L69.18 205.61L70.01 208.01L70.61 207.8L70.3 206.89L70.92 206.68L70.64 205.83L71.26 205.63L71.92 207.72L72.52 207.53L72.03 205.89L72.65 205.7L72.2 204.19L72.84 204.01L73.58 206.59L74.19 206.42L74.02 205.8L74.64 205.63L74.87 206.49L75.49 206.33L75.29 205.54L75.91 205.38L76.66 208.47A65.6 65.6 0 0 0 61.2 214.39Z" fill="#f21f1f"/>
<path d="M52.91 199.54A82.6 82.6 0 0 1 72.92 191.88L74.55 198.69A75.6 75.6 0 0 0 56.24 205.7Z" fill="#fff" stroke="#777" stroke-width="0.45"/>
<path d="M55.02 201.68L55.67 201.68L55.34 199.76L56.41 200.58L57.39 201.26L58.57 202.39L59.21 202.43L58.69 199.98L60.05 201.57L60.82 201.92L61.28 201.6L61.2 199.99L61.06 198.18L61.73 198.3L62.01 197.43L63.62 199.92L64.54 200.73L64.04 197.85L64.94 198.61L65.02 197.15L65.93 198.01L66.83 198.87L67.34 198.62L68.09 199.09L67.65 195.89L68.32 196.09L69.19 196.98L69.71 196.72L70.33 196.79L71.27 198.04L71 194.93L71.65 195.14L71.84 193.57L72.84 195.11" fill="none" stroke="#f23838" stroke-width="1.25" stroke-linejoin="round" stroke-linecap="round" stroke-dasharray="0.01 1.05"/>
<path d="M69.82 223.49L68.49 220.59M76.33 221L75.38 217.95" stroke="#f47b3a" stroke-width="0.4"/>
<path d="M67.18 225.93A52.6 52.6 0 0 1 79.92 221.05L81.51 227.67A45.8 45.8 0 0 0 70.42 231.91Z" fill="#e8e4e1" stroke="#707070" stroke-width="0.55"/>
<text transform="translate(74.61 226.25) rotate(339.05)" font-family="'Liberation Sans', sans-serif" font-size="2.2" fill="#f7941d" text-anchor="middle" dy="0.8">Chr14</text>
<path d="M65.11 236.77Q92.2 272.2 118.1 308.51M86.46 227.97Q92.2 272.2 47.66 274.53M88.62 227.74Q92.2 272.2 48.03 278.41M90.64 227.63Q92.2 272.2 56.12 298.42M104.87 229.44Q92.2 272.2 48.42 263.69M116.49 234.8Q92.2 272.2 135.28 260.66M130.02 248.57Q92.2 272.2 54.38 295.83M129.6 247.91Q92.2 272.2 55.49 297.53M134.19 257.17Q92.2 272.2 56.67 299.17M136.63 276.09Q92.2 272.2 116.49 309.6M51.15 254.77Q92.2 272.2 128.73 297.78M48.42 263.69Q92.2 272.2 134.62 258.42M47.6 271.81Q92.2 272.2 136.56 276.86M49.9 258.05Q92.2 272.2 114.5 310.82" fill="none" stroke="#f03030" stroke-width="0.65"/>
</g>
<g id="panel-c">
<path d="M262.5 214.6C262.5 248.37 470 227.73 470 261.5M273.5 214.6C273.5 248.37 400 227.73 400 261.5M281.6 214.6C281.6 248.37 279 227.73 279 261.5M287 214.6C287 248.37 440 227.73 440 261.5M330.7 214.6C330.7 248.37 266 227.73 266 261.5M338 214.6C338 248.37 278 227.73 278 261.5M300 214.6C300 248.37 542 227.73 542 261.5M351.4 214.6C351.4 248.37 365 227.73 365 261.5M356.5 214.6C356.5 248.37 367.7 227.73 367.7 261.5M358 214.6C358 248.37 290 227.73 290 261.5M379.5 214.6C379.5 248.37 415 227.73 415 261.5M381 214.6C381 248.37 418 227.73 418 261.5M382.5 214.6C382.5 248.37 421 227.73 421 261.5M384 214.6C384 248.37 455 227.73 455 261.5M388 214.6C388 248.37 380 227.73 380 261.5M405 214.6C405 248.37 372 227.73 372 261.5M396 214.6C396 248.37 324.4 227.73 324.4 261.5M408 214.6C408 248.37 478 227.73 478 261.5M392 214.6C392 248.37 500 227.73 500 261.5M420.5 214.6C420.5 248.37 458 227.73 458 261.5M423 214.6C423 248.37 385 227.73 385 261.5M430 214.6C430 248.37 331 227.73 331 261.5M436 214.6C436 248.37 404 227.73 404 261.5M442 214.6C442 248.37 420 227.73 420 261.5M444 214.6C444 248.37 470 227.73 470 261.5M447 214.6C447 248.37 486 227.73 486 261.5M436 214.6C436 248.37 520 227.73 520 261.5M460 214.6C460 248.37 434 227.73 434 261.5M476.5 214.6C476.5 248.37 442 227.73 442 261.5M478 214.6C478 248.37 410 227.73 410 261.5M485 214.6C485 248.37 469 227.73 469 261.5M487.5 214.6C487.5 248.37 470.5 227.73 470.5 261.5M490 214.6C490 248.37 456 227.73 456 261.5M498 214.6C498 248.37 430 227.73 430 261.5M506 214.6C506 248.37 476 227.73 476 261.5M514 214.6C514 248.37 478 227.73 478 261.5M515.6 214.6C515.6 248.37 483 227.73 483 261.5M524 214.6C524 248.37 444 227.73 444 261.5M531 214.6C531 248.37 470 227.73 470 261.5M540 214.6C540 248.37 488 227.73 488 261.5M370 214.6C370 248.37 310 227.73 310 261.5M455 214.6C455 248.37 352 227.73 352 261.5" fill="none" stroke="#e6dfdc" stroke-width="0.85"/>
<path d="M410.5 214.6C410.5 248.37 349.5 227.73 349.5 261.5M412 214.6C412 248.37 338 227.73 338 261.5M455.8 214.6C455.8 248.37 340.5 227.73 340.5 261.5M463.2 214.6C463.2 248.37 395.5 227.73 395.5 261.5M465 214.6C465 248.37 336 227.73 336 261.5M533.7 214.6C533.7 248.37 352 227.73 352 261.5M450 214.6C450 248.37 398 227.73 398 261.5" fill="none" stroke="#4a59a8" stroke-width="0.5"/>
<path d="M267.62 267.4C267.62 301.31 270.48 280.59 270.48 314.5M271.39 267.4C271.39 301.31 269.73 280.59 269.73 314.5M268.06 267.4C268.06 301.31 311.75 280.59 311.75 314.5M287.59 267.4C287.59 301.31 323.04 280.59 323.04 314.5M293.82 267.4C293.82 301.31 335.68 280.59 335.68 314.5M286.32 267.4C286.32 301.31 313.65 280.59 313.65 314.5M286.27 267.4C286.27 301.31 285.05 280.59 285.05 314.5M314.01 267.4C314.01 301.31 264.13 280.59 264.13 314.5M317.77 267.4C317.77 301.31 289.05 280.59 289.05 314.5M313.5 267.4C313.5 301.31 279.62 280.59 279.62 314.5M307.05 267.4C307.05 301.31 331.21 280.59 331.21 314.5M311.87 267.4C311.87 301.31 331.83 280.59 331.83 314.5M326.23 267.4C326.23 301.31 269.77 280.59 269.77 314.5M323.51 267.4C323.51 301.31 275.99 280.59 275.99 314.5M330.49 267.4C330.49 301.31 286.59 280.59 286.59 314.5M331.83 267.4C331.83 301.31 280.93 280.59 280.93 314.5M331.5 267.4C331.5 301.31 303.95 280.59 303.95 314.5M330.77 267.4C330.77 301.31 299.34 280.59 299.34 314.5M339.96 267.4C339.96 301.31 307.95 280.59 307.95 314.5M337.28 267.4C337.28 301.31 360.62 280.59 360.62 314.5M328.36 267.4C328.36 301.31 353.44 280.59 353.44 314.5M353.38 267.4C353.38 301.31 264.97 280.59 264.97 314.5M367.22 267.4C367.22 301.31 274.21 280.59 274.21 314.5M369.55 267.4C369.55 301.31 273.82 280.59 273.82 314.5M372.78 267.4C372.78 301.31 286.72 280.59 286.72 314.5M345.02 267.4C345.02 301.31 268.87 280.59 268.87 314.5M371.4 267.4C371.4 301.31 328.04 280.59 328.04 314.5M373.43 267.4C373.43 301.31 325.72 280.59 325.72 314.5M347.12 267.4C347.12 301.31 333.14 280.59 333.14 314.5M367.58 267.4C367.58 301.31 321.63 280.59 321.63 314.5M347.53 267.4C347.53 301.31 323.64 280.59 323.64 314.5M372.96 267.4C372.96 301.31 371.23 280.59 371.23 314.5M348.42 267.4C348.42 301.31 356.9 280.59 356.9 314.5M347.93 267.4C347.93 301.31 351.68 280.59 351.68 314.5M368.11 267.4C368.11 301.31 437.11 280.59 437.11 314.5M361.22 267.4C361.22 301.31 447.9 280.59 447.9 314.5M382.05 267.4C382.05 301.31 317.22 280.59 317.22 314.5M381.1 267.4C381.1 301.31 314.67 280.59 314.67 314.5M380.86 267.4C380.86 301.31 308.2 280.59 308.2 314.5M382.41 267.4C382.41 301.31 303.82 280.59 303.82 314.5M394.53 267.4C394.53 301.31 401.48 280.59 401.48 314.5M383.87 267.4C383.87 301.31 403.35 280.59 403.35 314.5M382.37 267.4C382.37 301.31 392.07 280.59 392.07 314.5M392.67 267.4C392.67 301.31 471.05 280.59 471.05 314.5M380.61 267.4C380.61 301.31 479.73 280.59 479.73 314.5M405.33 267.4C405.33 301.31 339.78 280.59 339.78 314.5M419.32 267.4C419.32 301.31 342.18 280.59 342.18 314.5M407.41 267.4C407.41 301.31 333.5 280.59 333.5 314.5M402.25 267.4C402.25 301.31 350.81 280.59 350.81 314.5M406.08 267.4C406.08 301.31 351.44 280.59 351.44 314.5M409.29 267.4C409.29 301.31 415.68 280.59 415.68 314.5M423.98 267.4C423.98 301.31 416.87 280.59 416.87 314.5M414.36 267.4C414.36 301.31 431.79 280.59 431.79 314.5M404.57 267.4C404.57 301.31 404.01 280.59 404.01 314.5M422.71 267.4C422.71 301.31 514.99 280.59 514.99 314.5M406.24 267.4C406.24 301.31 501.18 280.59 501.18 314.5M441.57 267.4C441.57 301.31 391.63 280.59 391.63 314.5M432.34 267.4C432.34 301.31 391.85 280.59 391.85 314.5M444 267.4C444 301.31 383.88 280.59 383.88 314.5M436.16 267.4C436.16 301.31 429.39 280.59 429.39 314.5M429.66 267.4C429.66 301.31 449.14 280.59 449.14 314.5M433.05 267.4C433.05 301.31 443.21 280.59 443.21 314.5M433.37 267.4C433.37 301.31 286.06 280.59 286.06 314.5M439.14 267.4C439.14 301.31 271.22 280.59 271.22 314.5M453.11 267.4C453.11 301.31 429.45 280.59 429.45 314.5M451.83 267.4C451.83 301.31 416.17 280.59 416.17 314.5M457.71 267.4C457.71 301.31 462.67 280.59 462.67 314.5M458.37 267.4C458.37 301.31 457.52 280.59 457.52 314.5M462.01 267.4C462.01 301.31 489.28 280.59 489.28 314.5M451.2 267.4C451.2 301.31 490.65 280.59 490.65 314.5M478.25 267.4C478.25 301.31 442.39 280.59 442.39 314.5M472.05 267.4C472.05 301.31 449.48 280.59 449.48 314.5M481.16 267.4C481.16 301.31 444.03 280.59 444.03 314.5M476.33 267.4C476.33 301.31 490.49 280.59 490.49 314.5M490.55 267.4C490.55 301.31 485.11 280.59 485.11 314.5M483.9 267.4C483.9 301.31 483.44 280.59 483.44 314.5M471.23 267.4C471.23 301.31 350.56 280.59 350.56 314.5M468.41 267.4C468.41 301.31 364.56 280.59 364.56 314.5M484.12 267.4C484.12 301.31 545.18 280.59 545.18 314.5M468.49 267.4C468.49 301.31 538 280.59 538 314.5M501.79 267.4C501.79 301.31 500.34 280.59 500.34 314.5M499.83 267.4C499.83 301.31 505.99 280.59 505.99 314.5M496.9 267.4C496.9 301.31 522.56 280.59 522.56 314.5M504.84 267.4C504.84 301.31 530.7 280.59 530.7 314.5M504.85 267.4C504.85 301.31 414.89 280.59 414.89 314.5M505.52 267.4C505.52 301.31 419.96 280.59 419.96 314.5M517.93 267.4C517.93 301.31 512.07 280.59 512.07 314.5M525.61 267.4C525.61 301.31 516.16 280.59 516.16 314.5M518.84 267.4C518.84 301.31 541.39 280.59 541.39 314.5M525.09 267.4C525.09 301.31 536.6 280.59 536.6 314.5M521.75 267.4C521.75 301.31 444.82 280.59 444.82 314.5M539.57 267.4C539.57 301.31 531.31 280.59 531.31 314.5M533.04 267.4C533.04 301.31 532.38 280.59 532.38 314.5M544.91 267.4C544.91 301.31 540.79 280.59 540.79 314.5M541.47 267.4C541.47 301.31 523.6 280.59 523.6 314.5M541.56 267.4C541.56 301.31 432.81 280.59 432.81 314.5M537.73 267.4C537.73 301.31 477.38 280.59 477.38 314.5M533.09 267.4C533.09 301.31 476.5 280.59 476.5 314.5" fill="none" stroke="#e6dfdc" stroke-width="0.85"/>
<path d="M265.3 267.4C265.3 301.31 471 280.59 471 314.5M276.2 267.4C276.2 301.31 497 280.59 497 314.5M294.4 267.4C294.4 301.31 312.5 280.59 312.5 314.5M295.5 267.4C295.5 301.31 512 280.59 512 314.5M349.5 267.4C349.5 301.31 384 280.59 384 314.5M365 267.4C365 301.31 392 280.59 392 314.5M394 267.4C394 301.31 307 280.59 307 314.5M393 267.4C393 301.31 460 280.59 460 314.5M423 267.4C423 301.31 343.5 280.59 343.5 314.5M425 267.4C425 301.31 351.6 280.59 351.6 314.5M444 267.4C444 301.31 437.7 280.59 437.7 314.5M498.4 267.4C498.4 301.31 265.3 280.59 265.3 314.5M541.4 267.4C541.4 301.31 290.7 280.59 290.7 314.5M400 267.4C400 301.31 350.5 280.59 350.5 314.5M443 267.4C443 301.31 330 280.59 330 314.5M470 267.4C470 301.31 524 280.59 524 314.5M336 267.4C336 301.31 429 280.59 429 314.5" fill="none" stroke="#4a59a8" stroke-width="0.5"/>
<rect x="262" y="208.7" width="82.2" height="5.9" rx="1.3" fill="#fff" stroke="#777" stroke-width="0.55"/>
<rect x="266.6" y="210" width="73" height="3.3" rx="1.65" fill="#0c0606"/>
<text x="304.1" y="208.9" font-family="'Liberation Sans', sans-serif" font-size="3.9" fill="#222" text-anchor="middle">Chr1</text>
<rect x="349.6" y="208.7" width="62.7" height="5.9" rx="1.3" fill="#fff" stroke="#777" stroke-width="0.55"/>
<rect x="354.2" y="210" width="53.5" height="3.3" rx="1.65" fill="#0c0606"/>
<text x="381.95" y="208.9" font-family="'Liberation Sans', sans-serif" font-size="3.9" fill="#222" text-anchor="middle">Chr3</text>
<rect x="417.7" y="208.7" width="50.5" height="5.9" rx="1.3" fill="#fff" stroke="#777" stroke-width="0.55"/>
<rect x="422.3" y="210" width="41.3" height="3.3" rx="1.65" fill="#0c0606"/>
<text x="443.95" y="208.9" font-family="'Liberation Sans', sans-serif" font-size="3.9" fill="#222" text-anchor="middle">Chr4</text>
<rect x="473" y="208.7" width="73.4" height="5.9" rx="1.3" fill="#fff" stroke="#777" stroke-width="0.55"/>
<rect x="477.6" y="210" width="64.2" height="3.3" rx="1.65" fill="#0c0606"/>
<text x="510.7" y="208.9" font-family="'Liberation Sans', sans-serif" font-size="3.9" fill="#222" text-anchor="middle">Chr5</text>
<rect x="262.1" y="261.6" width="16.3" height="5.5" rx="2.7" fill="#fde0dc" stroke="#f9b4ad" stroke-width="0.55"/>
<rect x="263.7" y="263" width="13.1" height="2.7" rx="1.35" fill="#f62a22"/>
<text x="270.25" y="261.3" font-family="'Liberation Sans', sans-serif" font-size="3.6" fill="#f0332c" text-anchor="middle">Chr01</text>
<rect x="283.9" y="261.6" width="16.3" height="5.5" rx="2.7" fill="#fde0dc" stroke="#f9b4ad" stroke-width="0.55"/>
<rect x="285.5" y="263" width="13.1" height="2.7" rx="1.35" fill="#f62a22"/>
<text x="292.05" y="261.3" font-family="'Liberation Sans', sans-serif" font-size="3.6" fill="#f0332c" text-anchor="middle">Chr03</text>
<rect x="304.9" y="261.6" width="13.1" height="5.5" rx="2.7" fill="#fde0dc" stroke="#f9b4ad" stroke-width="0.55"/>
<rect x="306.5" y="263" width="9.9" height="2.7" rx="1.35" fill="#f62a22"/>
<text x="311.45" y="261.3" font-family="'Liberation Sans', sans-serif" font-size="3.6" fill="#f0332c" text-anchor="middle">Chr04</text>
<rect x="322.9" y="261.6" width="16.8" height="5.5" rx="2.7" fill="#fde0dc" stroke="#f9b4ad" stroke-width="0.55"/>
<rect x="324.5" y="263" width="13.6" height="2.7" rx="1.35" fill="#f62a22"/>
<text x="331.3" y="261.3" font-family="'Liberation Sans', sans-serif" font-size="3.6" fill="#f0332c" text-anchor="middle">Chr05</text>
<rect x="344.7" y="261.6" width="29.2" height="5.5" rx="2.7" fill="#fde0dc" stroke="#f9b4ad" stroke-width="0.55"/>
<rect x="346.3" y="263" width="26" height="2.7" rx="1.35" fill="#f62a22"/>
<text x="359.3" y="261.3" font-family="'Liberation Sans', sans-serif" font-size="3.6" fill="#f0332c" text-anchor="middle">Chr06</text>
<rect x="378.8" y="261.6" width="16.3" height="5.5" rx="2.7" fill="#fde0dc" stroke="#f9b4ad" stroke-width="0.55"/>
<rect x="380.4" y="263" width="13.1" height="2.7" rx="1.35" fill="#f62a22"/>
<text x="386.95" y="261.3" font-family="'Liberation Sans', sans-serif" font-size="3.6" fill="#f0332c" text-anchor="middle">Chr07</text>
<rect x="400.3" y="261.6" width="24.8" height="5.5" rx="2.7" fill="#fde0dc" stroke="#f9b4ad" stroke-width="0.55"/>
<rect x="401.9" y="263" width="21.6" height="2.7" rx="1.35" fill="#f62a22"/>
<text x="412.7" y="261.3" font-family="'Liberation Sans', sans-serif" font-size="3.6" fill="#f0332c" text-anchor="middle">Chr08</text>
<rect x="429.5" y="261.6" width="16.6" height="5.5" rx="2.7" fill="#fde0dc" stroke="#f9b4ad" stroke-width="0.55"/>
<rect x="431.1" y="263" width="13.4" height="2.7" rx="1.35" fill="#f62a22"/>
<text x="437.8" y="261.3" font-family="'Liberation Sans', sans-serif" font-size="3.6" fill="#f0332c" text-anchor="middle">Chr09</text>
<rect x="450.7" y="261.6" width="12.3" height="5.5" rx="2.7" fill="#fde0dc" stroke="#f9b4ad" stroke-width="0.55"/>
<rect x="452.3" y="263" width="9.1" height="2.7" rx="1.35" fill="#f62a22"/>
<text x="456.85" y="261.3" font-family="'Liberation Sans', sans-serif" font-size="3.6" fill="#f0332c" text-anchor="middle">Chr10</text>
<rect x="467.7" y="261.6" width="23.4" height="5.5" rx="2.7" fill="#fde0dc" stroke="#f9b4ad" stroke-width="0.55"/>
<rect x="469.3" y="263" width="20.2" height="2.7" rx="1.35" fill="#f62a22"/>
<text x="479.4" y="261.3" font-family="'Liberation Sans', sans-serif" font-size="3.6" fill="#f0332c" text-anchor="middle">Chr11</text>
<rect x="495.7" y="261.6" width="12.3" height="5.5" rx="2.7" fill="#fde0dc" stroke="#f9b4ad" stroke-width="0.55"/>
<rect x="497.3" y="263" width="9.1" height="2.7" rx="1.35" fill="#f62a22"/>
<text x="501.85" y="261.3" font-family="'Liberation Sans', sans-serif" font-size="3.6" fill="#f0332c" text-anchor="middle">Chr12</text>
<rect x="512.9" y="261.6" width="14.2" height="5.5" rx="2.7" fill="#fde0dc" stroke="#f9b4ad" stroke-width="0.55"/>
<rect x="514.5" y="263" width="11" height="2.7" rx="1.35" fill="#f62a22"/>
<text x="520" y="261.3" font-family="'Liberation Sans', sans-serif" font-size="3.6" fill="#f0332c" text-anchor="middle">Chr13</text>
<rect x="531.7" y="261.6" width="13.9" height="5.5" rx="2.7" fill="#fde0dc" stroke="#f9b4ad" stroke-width="0.55"/>
<rect x="533.3" y="263" width="10.7" height="2.7" rx="1.35" fill="#f62a22"/>
<text x="538.65" y="261.3" font-family="'Liberation Sans', sans-serif" font-size="3.6" fill="#f0332c" text-anchor="middle">Chr14</text>
<rect x="262.1" y="314.8" width="28.9" height="4.3" rx="1.6" fill="#def0db" stroke="#8cc888" stroke-width="0.55"/>
<rect x="263.1" y="315.95" width="26.9" height="2" rx="0.7" fill="#218221"/>
<text x="276.55" y="314.1" font-family="'Liberation Sans', sans-serif" font-size="3.6" fill="#2a8f2a" text-anchor="middle">Chr01</text>
<rect x="296.2" y="314.8" width="11.7" height="4.3" rx="1.6" fill="#def0db" stroke="#8cc888" stroke-width="0.55"/>
<rect x="297.2" y="315.95" width="9.7" height="2" rx="0.7" fill="#218221"/>
<text x="302.05" y="314.1" font-family="'Liberation Sans', sans-serif" font-size="3.6" fill="#2a8f2a" text-anchor="middle">Chr02</text>
<rect x="313.4" y="314.8" width="11.7" height="4.3" rx="1.6" fill="#def0db" stroke="#8cc888" stroke-width="0.55"/>
<rect x="314.4" y="315.95" width="9.7" height="2" rx="0.7" fill="#218221"/>
<text x="319.25" y="314.1" font-family="'Liberation Sans', sans-serif" font-size="3.6" fill="#2a8f2a" text-anchor="middle">Chr04</text>
<rect x="331.1" y="314.8" width="13.6" height="4.3" rx="1.6" fill="#def0db" stroke="#8cc888" stroke-width="0.55"/>
<rect x="332.1" y="315.95" width="11.6" height="2" rx="0.7" fill="#218221"/>
<text x="337.9" y="314.1" font-family="'Liberation Sans', sans-serif" font-size="3.6" fill="#2a8f2a" text-anchor="middle">Chr05</text>
<rect x="350.2" y="314.8" width="14.9" height="4.3" rx="1.6" fill="#def0db" stroke="#8cc888" stroke-width="0.55"/>
<rect x="351.2" y="315.95" width="12.9" height="2" rx="0.7" fill="#218221"/>
<text x="357.65" y="314.1" font-family="'Liberation Sans', sans-serif" font-size="3.6" fill="#2a8f2a" text-anchor="middle">Chr06</text>
<rect x="369.8" y="314.8" width="8.3" height="4.3" rx="1.6" fill="#def0db" stroke="#8cc888" stroke-width="0.55"/>
<rect x="370.8" y="315.95" width="6.3" height="2" rx="0.7" fill="#218221"/>
<text x="373.95" y="314.1" font-family="'Liberation Sans', sans-serif" font-size="3.6" fill="#2a8f2a" text-anchor="middle">Chr07</text>
<rect x="383.5" y="314.8" width="9" height="4.3" rx="1.6" fill="#def0db" stroke="#8cc888" stroke-width="0.55"/>
<rect x="384.5" y="315.95" width="7" height="2" rx="0.7" fill="#218221"/>
<text x="388" y="314.1" font-family="'Liberation Sans', sans-serif" font-size="3.6" fill="#2a8f2a" text-anchor="middle">Chr08</text>
<rect x="398.3" y="314.8" width="7.4" height="4.3" rx="1.6" fill="#def0db" stroke="#8cc888" stroke-width="0.55"/>
<rect x="399.3" y="315.95" width="5.4" height="2" rx="0.7" fill="#218221"/>
<text x="402" y="314.1" font-family="'Liberation Sans', sans-serif" font-size="3.6" fill="#2a8f2a" text-anchor="middle">Chr09</text>
<rect x="410.7" y="314.8" width="11" height="4.3" rx="1.6" fill="#def0db" stroke="#8cc888" stroke-width="0.55"/>
<rect x="411.7" y="315.95" width="9" height="2" rx="0.7" fill="#218221"/>
<text x="416.2" y="314.1" font-family="'Liberation Sans', sans-serif" font-size="3.6" fill="#2a8f2a" text-anchor="middle">Chr10</text>
<rect x="427.7" y="314.8" width="9" height="4.3" rx="1.6" fill="#def0db" stroke="#8cc888" stroke-width="0.55"/>
<rect x="428.7" y="315.95" width="7" height="2" rx="0.7" fill="#218221"/>
<text x="432.2" y="314.1" font-family="'Liberation Sans', sans-serif" font-size="3.6" fill="#2a8f2a" text-anchor="middle">Chr11</text>
<rect x="441.8" y="314.8" width="8.4" height="4.3" rx="1.6" fill="#def0db" stroke="#8cc888" stroke-width="0.55"/>
<rect x="442.8" y="315.95" width="6.4" height="2" rx="0.7" fill="#218221"/>
<text x="446" y="314.1" font-family="'Liberation Sans', sans-serif" font-size="3.6" fill="#2a8f2a" text-anchor="middle">Chr12</text>
<rect x="455.7" y="314.8" width="8.1" height="4.3" rx="1.6" fill="#def0db" stroke="#8cc888" stroke-width="0.55"/>
<rect x="456.7" y="315.95" width="6.1" height="2" rx="0.7" fill="#218221"/>
<text x="459.75" y="314.1" font-family="'Liberation Sans', sans-serif" font-size="3.6" fill="#2a8f2a" text-anchor="middle">Chr13</text>
<rect x="469.8" y="314.8" width="9" height="4.3" rx="1.6" fill="#def0db" stroke="#8cc888" stroke-width="0.55"/>
<rect x="470.8" y="315.95" width="7" height="2" rx="0.7" fill="#218221"/>
<text x="474.3" y="314.1" font-family="'Liberation Sans', sans-serif" font-size="3.6" fill="#2a8f2a" text-anchor="middle">Chr14</text>
<rect x="485.4" y="314.8" width="7" height="4.3" rx="1.6" fill="#def0db" stroke="#8cc888" stroke-width="0.55"/>
<rect x="486.4" y="315.95" width="5" height="2" rx="0.7" fill="#218221"/>
<text x="488.9" y="314.1" font-family="'Liberation Sans', sans-serif" font-size="3.6" fill="#2a8f2a" text-anchor="middle">Chr15</text>
<rect x="497.9" y="314.8" width="7.6" height="4.3" rx="1.6" fill="#def0db" stroke="#8cc888" stroke-width="0.55"/>
<rect x="498.9" y="315.95" width="5.6" height="2" rx="0.7" fill="#218221"/>
<text x="501.7" y="314.1" font-family="'Liberation Sans', sans-serif" font-size="3.6" fill="#2a8f2a" text-anchor="middle">Chr16</text>
<rect x="510.7" y="314.8" width="8.2" height="4.3" rx="1.6" fill="#def0db" stroke="#8cc888" stroke-width="0.55"/>
<rect x="511.7" y="315.95" width="6.2" height="2" rx="0.7" fill="#218221"/>
<text x="514.8" y="314.1" font-family="'Liberation Sans', sans-serif" font-size="3.6" fill="#2a8f2a" text-anchor="middle">Chr17</text>
<rect x="524.4" y="314.8" width="8.1" height="4.3" rx="1.6" fill="#def0db" stroke="#8cc888" stroke-width="0.55"/>
<rect x="525.4" y="315.95" width="6.1" height="2" rx="0.7" fill="#218221"/>
<text x="528.45" y="314.1" font-family="'Liberation Sans', sans-serif" font-size="3.6" fill="#2a8f2a" text-anchor="middle">Chr18</text>
<rect x="538" y="314.8" width="7.6" height="4.3" rx="1.6" fill="#def0db" stroke="#8cc888" stroke-width="0.55"/>
<rect x="539" y="315.95" width="5.6" height="2" rx="0.7" fill="#218221"/>
<text x="541.8" y="314.1" font-family="'Liberation Sans', sans-serif" font-size="3.6" fill="#2a8f2a" text-anchor="middle">Chr19</text>
<g font-family="'Liberation Serif', serif" font-size="6.9" font-weight="bold" font-style="italic">
<text x="192" y="213.8" fill="#1a1a1a">Arabidopsis thaliana</text>
<text x="185.4" y="266.4" fill="#f03030">Betula platyphylla Suk</text>
<text x="193.4" y="319.2" fill="#3a9a3a">Populus trichocarpa</text>
</g>
</g>
<g font-family="'Liberation Serif', serif" font-size="16" fill="#111">
<text x="2.3 9.2 17.3" y="13.8 14.8 13.8">(a)</text>
<text x="2.3 9.5 18.4" y="194.4 195.4 194.4">(b)</text>
<text x="179.9 186.9 194.5" y="194.4 195.4 194.4">(c)</text>
</g>
</svg></body></html>
